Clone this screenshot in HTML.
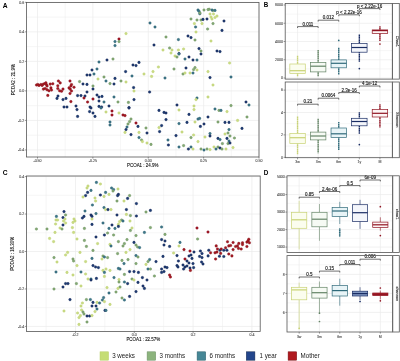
<!DOCTYPE html>
<html><head><meta charset="utf-8"><style>
html,body{margin:0;padding:0;background:#fff;width:400px;height:361px;overflow:hidden}
svg{display:block;will-change:transform}
text{font-family:"Liberation Sans", sans-serif}
</style></head><body>
<svg width="400" height="361" viewBox="0 0 400 361">
<defs><filter id="soft" x="-5%" y="-5%" width="110%" height="110%"><feGaussianBlur stdDeviation="0.3"/></filter></defs>
<rect x="0" y="0" width="400" height="361" fill="#fff"/>
<rect x="26.40" y="2.40" width="232.60" height="154.60" fill="#fff" stroke="none" stroke-width="0"/>
<line x1="65.19" y1="2.40" x2="65.19" y2="157.00" stroke="#ebebeb" stroke-width="0.45"/>
<line x1="120.56" y1="2.40" x2="120.56" y2="157.00" stroke="#ebebeb" stroke-width="0.45"/>
<line x1="175.94" y1="2.40" x2="175.94" y2="157.00" stroke="#ebebeb" stroke-width="0.45"/>
<line x1="231.31" y1="2.40" x2="231.31" y2="157.00" stroke="#ebebeb" stroke-width="0.45"/>
<line x1="26.40" y1="17.10" x2="259.00" y2="17.10" stroke="#ebebeb" stroke-width="0.45"/>
<line x1="26.40" y1="46.62" x2="259.00" y2="46.62" stroke="#ebebeb" stroke-width="0.45"/>
<line x1="26.40" y1="76.14" x2="259.00" y2="76.14" stroke="#ebebeb" stroke-width="0.45"/>
<line x1="26.40" y1="105.66" x2="259.00" y2="105.66" stroke="#ebebeb" stroke-width="0.45"/>
<line x1="26.40" y1="135.18" x2="259.00" y2="135.18" stroke="#ebebeb" stroke-width="0.45"/>
<line x1="37.50" y1="2.40" x2="37.50" y2="157.00" stroke="#ebebeb" stroke-width="0.7"/>
<line x1="92.88" y1="2.40" x2="92.88" y2="157.00" stroke="#ebebeb" stroke-width="0.7"/>
<line x1="148.25" y1="2.40" x2="148.25" y2="157.00" stroke="#ebebeb" stroke-width="0.7"/>
<line x1="203.62" y1="2.40" x2="203.62" y2="157.00" stroke="#ebebeb" stroke-width="0.7"/>
<line x1="259.00" y1="2.40" x2="259.00" y2="157.00" stroke="#ebebeb" stroke-width="0.7"/>
<line x1="26.40" y1="2.34" x2="259.00" y2="2.34" stroke="#ebebeb" stroke-width="0.7"/>
<line x1="26.40" y1="31.86" x2="259.00" y2="31.86" stroke="#ebebeb" stroke-width="0.7"/>
<line x1="26.40" y1="61.38" x2="259.00" y2="61.38" stroke="#ebebeb" stroke-width="0.7"/>
<line x1="26.40" y1="90.90" x2="259.00" y2="90.90" stroke="#ebebeb" stroke-width="0.7"/>
<line x1="26.40" y1="120.42" x2="259.00" y2="120.42" stroke="#ebebeb" stroke-width="0.7"/>
<line x1="26.40" y1="149.94" x2="259.00" y2="149.94" stroke="#ebebeb" stroke-width="0.7"/>
<g filter="url(#soft)">
<circle cx="150.0" cy="23.0" r="1.28" fill="#3d788a" stroke="#2e5c6c" stroke-width="0.35"/>
<circle cx="155.0" cy="27.0" r="1.28" fill="#3d788a" stroke="#2e5c6c" stroke-width="0.35"/>
<circle cx="126.0" cy="33.6" r="1.28" fill="#cadc84" stroke="#bccf74" stroke-width="0.35"/>
<circle cx="119.0" cy="39.0" r="1.28" fill="#a61a24" stroke="#7c1018" stroke-width="0.35"/>
<circle cx="115.0" cy="41.6" r="1.28" fill="#3d788a" stroke="#2e5c6c" stroke-width="0.35"/>
<circle cx="119.0" cy="41.6" r="1.28" fill="#84aa74" stroke="#6c8e60" stroke-width="0.35"/>
<circle cx="115.0" cy="45.6" r="1.28" fill="#3d788a" stroke="#2e5c6c" stroke-width="0.35"/>
<circle cx="154.0" cy="45.0" r="1.28" fill="#1f3a74" stroke="#152850" stroke-width="0.35"/>
<circle cx="166.0" cy="37.0" r="1.28" fill="#84aa74" stroke="#6c8e60" stroke-width="0.35"/>
<circle cx="178.4" cy="39.6" r="1.28" fill="#3d788a" stroke="#2e5c6c" stroke-width="0.35"/>
<circle cx="163.0" cy="50.0" r="1.28" fill="#cadc84" stroke="#bccf74" stroke-width="0.35"/>
<circle cx="169.6" cy="48.0" r="1.28" fill="#84aa74" stroke="#6c8e60" stroke-width="0.35"/>
<circle cx="172.0" cy="50.0" r="1.28" fill="#cadc84" stroke="#bccf74" stroke-width="0.35"/>
<circle cx="178.4" cy="50.0" r="1.28" fill="#cadc84" stroke="#bccf74" stroke-width="0.35"/>
<circle cx="183.6" cy="49.0" r="1.28" fill="#cadc84" stroke="#bccf74" stroke-width="0.35"/>
<circle cx="171.0" cy="53.0" r="1.28" fill="#cadc84" stroke="#bccf74" stroke-width="0.35"/>
<circle cx="179.0" cy="53.6" r="1.28" fill="#1f3a74" stroke="#152850" stroke-width="0.35"/>
<circle cx="198.0" cy="10.0" r="1.28" fill="#3d788a" stroke="#2e5c6c" stroke-width="0.35"/>
<circle cx="199.0" cy="11.2" r="1.28" fill="#3d788a" stroke="#2e5c6c" stroke-width="0.35"/>
<circle cx="199.8" cy="13.8" r="1.28" fill="#3d788a" stroke="#2e5c6c" stroke-width="0.35"/>
<circle cx="212.9" cy="10.6" r="1.28" fill="#84aa74" stroke="#6c8e60" stroke-width="0.35"/>
<circle cx="209.2" cy="9.2" r="1.28" fill="#84aa74" stroke="#6c8e60" stroke-width="0.35"/>
<circle cx="213.5" cy="14.0" r="1.28" fill="#cadc84" stroke="#bccf74" stroke-width="0.35"/>
<circle cx="215.0" cy="17.5" r="1.28" fill="#cadc84" stroke="#bccf74" stroke-width="0.35"/>
<circle cx="200.0" cy="13.0" r="1.28" fill="#84aa74" stroke="#6c8e60" stroke-width="0.35"/>
<circle cx="204.0" cy="10.0" r="1.28" fill="#84aa74" stroke="#6c8e60" stroke-width="0.35"/>
<circle cx="208.0" cy="9.6" r="1.28" fill="#84aa74" stroke="#6c8e60" stroke-width="0.35"/>
<circle cx="212.0" cy="10.0" r="1.28" fill="#3d788a" stroke="#2e5c6c" stroke-width="0.35"/>
<circle cx="215.0" cy="10.4" r="1.28" fill="#3d788a" stroke="#2e5c6c" stroke-width="0.35"/>
<circle cx="210.0" cy="14.0" r="1.28" fill="#cadc84" stroke="#bccf74" stroke-width="0.35"/>
<circle cx="211.0" cy="17.0" r="1.28" fill="#cadc84" stroke="#bccf74" stroke-width="0.35"/>
<circle cx="217.0" cy="16.0" r="1.28" fill="#cadc84" stroke="#bccf74" stroke-width="0.35"/>
<circle cx="212.0" cy="19.0" r="1.28" fill="#cadc84" stroke="#bccf74" stroke-width="0.35"/>
<circle cx="191.0" cy="19.0" r="1.28" fill="#84aa74" stroke="#6c8e60" stroke-width="0.35"/>
<circle cx="197.0" cy="20.0" r="1.28" fill="#84aa74" stroke="#6c8e60" stroke-width="0.35"/>
<circle cx="201.0" cy="20.0" r="1.28" fill="#84aa74" stroke="#6c8e60" stroke-width="0.35"/>
<circle cx="203.0" cy="19.4" r="1.28" fill="#1f3a74" stroke="#152850" stroke-width="0.35"/>
<circle cx="207.0" cy="19.0" r="1.28" fill="#1f3a74" stroke="#152850" stroke-width="0.35"/>
<circle cx="224.0" cy="21.0" r="1.28" fill="#1f3a74" stroke="#152850" stroke-width="0.35"/>
<circle cx="194.4" cy="23.6" r="1.28" fill="#cadc84" stroke="#bccf74" stroke-width="0.35"/>
<circle cx="202.0" cy="23.6" r="1.28" fill="#cadc84" stroke="#bccf74" stroke-width="0.35"/>
<circle cx="213.0" cy="23.6" r="1.28" fill="#84aa74" stroke="#6c8e60" stroke-width="0.35"/>
<circle cx="195.6" cy="27.0" r="1.28" fill="#3d788a" stroke="#2e5c6c" stroke-width="0.35"/>
<circle cx="207.6" cy="29.0" r="1.28" fill="#84aa74" stroke="#6c8e60" stroke-width="0.35"/>
<circle cx="222.0" cy="30.4" r="1.28" fill="#1f3a74" stroke="#152850" stroke-width="0.35"/>
<circle cx="196.0" cy="32.0" r="1.28" fill="#cadc84" stroke="#bccf74" stroke-width="0.35"/>
<circle cx="188.0" cy="36.0" r="1.28" fill="#1f3a74" stroke="#152850" stroke-width="0.35"/>
<circle cx="191.0" cy="37.6" r="1.28" fill="#1f3a74" stroke="#152850" stroke-width="0.35"/>
<circle cx="195.0" cy="40.0" r="1.28" fill="#84aa74" stroke="#6c8e60" stroke-width="0.35"/>
<circle cx="211.0" cy="41.0" r="1.28" fill="#cadc84" stroke="#bccf74" stroke-width="0.35"/>
<circle cx="199.0" cy="48.6" r="1.28" fill="#1f3a74" stroke="#152850" stroke-width="0.35"/>
<circle cx="201.0" cy="51.0" r="1.28" fill="#84aa74" stroke="#6c8e60" stroke-width="0.35"/>
<circle cx="217.0" cy="51.0" r="1.28" fill="#1f3a74" stroke="#152850" stroke-width="0.35"/>
<circle cx="220.0" cy="51.6" r="1.28" fill="#1f3a74" stroke="#152850" stroke-width="0.35"/>
<circle cx="36.5" cy="85.0" r="1.28" fill="#a61a24" stroke="#7c1018" stroke-width="0.35"/>
<circle cx="37.8" cy="84.5" r="1.28" fill="#a61a24" stroke="#7c1018" stroke-width="0.35"/>
<circle cx="39.0" cy="85.4" r="1.28" fill="#a61a24" stroke="#7c1018" stroke-width="0.35"/>
<circle cx="40.9" cy="84.5" r="1.28" fill="#a61a24" stroke="#7c1018" stroke-width="0.35"/>
<circle cx="42.1" cy="85.4" r="1.28" fill="#a61a24" stroke="#7c1018" stroke-width="0.35"/>
<circle cx="43.4" cy="84.1" r="1.28" fill="#a61a24" stroke="#7c1018" stroke-width="0.35"/>
<circle cx="45.2" cy="83.5" r="1.28" fill="#a61a24" stroke="#7c1018" stroke-width="0.35"/>
<circle cx="46.5" cy="84.8" r="1.28" fill="#a61a24" stroke="#7c1018" stroke-width="0.35"/>
<circle cx="47.1" cy="86.0" r="1.28" fill="#a61a24" stroke="#7c1018" stroke-width="0.35"/>
<circle cx="45.9" cy="82.9" r="1.28" fill="#a61a24" stroke="#7c1018" stroke-width="0.35"/>
<circle cx="50.2" cy="84.1" r="1.28" fill="#a61a24" stroke="#7c1018" stroke-width="0.35"/>
<circle cx="52.8" cy="83.8" r="1.28" fill="#a61a24" stroke="#7c1018" stroke-width="0.35"/>
<circle cx="43.4" cy="89.1" r="1.28" fill="#a61a24" stroke="#7c1018" stroke-width="0.35"/>
<circle cx="45.2" cy="88.5" r="1.28" fill="#a61a24" stroke="#7c1018" stroke-width="0.35"/>
<circle cx="47.1" cy="89.8" r="1.28" fill="#a61a24" stroke="#7c1018" stroke-width="0.35"/>
<circle cx="49.0" cy="90.8" r="1.28" fill="#a61a24" stroke="#7c1018" stroke-width="0.35"/>
<circle cx="50.9" cy="87.9" r="1.28" fill="#a61a24" stroke="#7c1018" stroke-width="0.35"/>
<circle cx="51.5" cy="90.0" r="1.28" fill="#a61a24" stroke="#7c1018" stroke-width="0.35"/>
<circle cx="47.8" cy="95.4" r="1.28" fill="#a61a24" stroke="#7c1018" stroke-width="0.35"/>
<circle cx="58.4" cy="81.0" r="1.28" fill="#a61a24" stroke="#7c1018" stroke-width="0.35"/>
<circle cx="60.2" cy="82.9" r="1.28" fill="#a61a24" stroke="#7c1018" stroke-width="0.35"/>
<circle cx="57.8" cy="85.8" r="1.28" fill="#a61a24" stroke="#7c1018" stroke-width="0.35"/>
<circle cx="57.8" cy="88.5" r="1.28" fill="#a61a24" stroke="#7c1018" stroke-width="0.35"/>
<circle cx="59.6" cy="90.8" r="1.28" fill="#a61a24" stroke="#7c1018" stroke-width="0.35"/>
<circle cx="61.5" cy="91.2" r="1.28" fill="#a61a24" stroke="#7c1018" stroke-width="0.35"/>
<circle cx="63.0" cy="89.1" r="1.28" fill="#a61a24" stroke="#7c1018" stroke-width="0.35"/>
<circle cx="70.0" cy="81.0" r="1.28" fill="#a61a24" stroke="#7c1018" stroke-width="0.35"/>
<circle cx="71.5" cy="84.5" r="1.28" fill="#a61a24" stroke="#7c1018" stroke-width="0.35"/>
<circle cx="70.9" cy="86.0" r="1.28" fill="#a61a24" stroke="#7c1018" stroke-width="0.35"/>
<circle cx="69.0" cy="87.9" r="1.28" fill="#a61a24" stroke="#7c1018" stroke-width="0.35"/>
<circle cx="74.0" cy="87.2" r="1.28" fill="#a61a24" stroke="#7c1018" stroke-width="0.35"/>
<circle cx="70.2" cy="89.1" r="1.28" fill="#a61a24" stroke="#7c1018" stroke-width="0.35"/>
<circle cx="71.5" cy="91.0" r="1.28" fill="#a61a24" stroke="#7c1018" stroke-width="0.35"/>
<circle cx="70.0" cy="93.5" r="1.28" fill="#a61a24" stroke="#7c1018" stroke-width="0.35"/>
<circle cx="70.9" cy="101.6" r="1.28" fill="#a61a24" stroke="#7c1018" stroke-width="0.35"/>
<circle cx="79.6" cy="81.6" r="1.28" fill="#84aa74" stroke="#6c8e60" stroke-width="0.35"/>
<circle cx="87.6" cy="102.0" r="1.28" fill="#a61a24" stroke="#7c1018" stroke-width="0.35"/>
<circle cx="93.0" cy="99.0" r="1.28" fill="#a61a24" stroke="#7c1018" stroke-width="0.35"/>
<circle cx="99.0" cy="62.0" r="1.28" fill="#3d788a" stroke="#2e5c6c" stroke-width="0.35"/>
<circle cx="97.0" cy="69.0" r="1.28" fill="#3d788a" stroke="#2e5c6c" stroke-width="0.35"/>
<circle cx="92.0" cy="70.0" r="1.28" fill="#1f3a74" stroke="#152850" stroke-width="0.35"/>
<circle cx="87.0" cy="75.0" r="1.28" fill="#1f3a74" stroke="#152850" stroke-width="0.35"/>
<circle cx="90.0" cy="75.0" r="1.28" fill="#1f3a74" stroke="#152850" stroke-width="0.35"/>
<circle cx="94.0" cy="74.0" r="1.28" fill="#3d788a" stroke="#2e5c6c" stroke-width="0.35"/>
<circle cx="104.0" cy="77.0" r="1.28" fill="#84aa74" stroke="#6c8e60" stroke-width="0.35"/>
<circle cx="98.0" cy="79.0" r="1.28" fill="#cadc84" stroke="#bccf74" stroke-width="0.35"/>
<circle cx="83.0" cy="84.0" r="1.28" fill="#1f3a74" stroke="#152850" stroke-width="0.35"/>
<circle cx="87.0" cy="84.4" r="1.28" fill="#1f3a74" stroke="#152850" stroke-width="0.35"/>
<circle cx="93.0" cy="86.0" r="1.28" fill="#84aa74" stroke="#6c8e60" stroke-width="0.35"/>
<circle cx="87.0" cy="92.0" r="1.28" fill="#1f3a74" stroke="#152850" stroke-width="0.35"/>
<circle cx="93.0" cy="89.0" r="1.28" fill="#1f3a74" stroke="#152850" stroke-width="0.35"/>
<circle cx="77.6" cy="95.6" r="1.28" fill="#1f3a74" stroke="#152850" stroke-width="0.35"/>
<circle cx="81.0" cy="95.6" r="1.28" fill="#1f3a74" stroke="#152850" stroke-width="0.35"/>
<circle cx="85.0" cy="96.0" r="1.28" fill="#1f3a74" stroke="#152850" stroke-width="0.35"/>
<circle cx="84.0" cy="98.0" r="1.28" fill="#a61a24" stroke="#7c1018" stroke-width="0.35"/>
<circle cx="58.0" cy="96.0" r="1.28" fill="#1f3a74" stroke="#152850" stroke-width="0.35"/>
<circle cx="57.0" cy="98.4" r="1.28" fill="#1f3a74" stroke="#152850" stroke-width="0.35"/>
<circle cx="63.0" cy="99.6" r="1.28" fill="#1f3a74" stroke="#152850" stroke-width="0.35"/>
<circle cx="66.0" cy="98.4" r="1.28" fill="#1f3a74" stroke="#152850" stroke-width="0.35"/>
<circle cx="64.0" cy="107.0" r="1.28" fill="#1f3a74" stroke="#152850" stroke-width="0.35"/>
<circle cx="67.0" cy="107.0" r="1.28" fill="#1f3a74" stroke="#152850" stroke-width="0.35"/>
<circle cx="76.0" cy="106.0" r="1.28" fill="#1f3a74" stroke="#152850" stroke-width="0.35"/>
<circle cx="97.0" cy="95.0" r="1.28" fill="#1f3a74" stroke="#152850" stroke-width="0.35"/>
<circle cx="99.0" cy="97.0" r="1.28" fill="#1f3a74" stroke="#152850" stroke-width="0.35"/>
<circle cx="102.0" cy="96.4" r="1.28" fill="#1f3a74" stroke="#152850" stroke-width="0.35"/>
<circle cx="99.0" cy="101.0" r="1.28" fill="#1f3a74" stroke="#152850" stroke-width="0.35"/>
<circle cx="90.0" cy="107.0" r="1.28" fill="#1f3a74" stroke="#152850" stroke-width="0.35"/>
<circle cx="99.0" cy="106.4" r="1.28" fill="#1f3a74" stroke="#152850" stroke-width="0.35"/>
<circle cx="101.6" cy="107.0" r="1.28" fill="#1f3a74" stroke="#152850" stroke-width="0.35"/>
<circle cx="104.0" cy="102.0" r="1.28" fill="#3d788a" stroke="#2e5c6c" stroke-width="0.35"/>
<circle cx="107.0" cy="60.0" r="1.28" fill="#1f3a74" stroke="#152850" stroke-width="0.35"/>
<circle cx="113.0" cy="59.0" r="1.28" fill="#84aa74" stroke="#6c8e60" stroke-width="0.35"/>
<circle cx="133.0" cy="65.0" r="1.28" fill="#1f3a74" stroke="#152850" stroke-width="0.35"/>
<circle cx="136.0" cy="65.6" r="1.28" fill="#1f3a74" stroke="#152850" stroke-width="0.35"/>
<circle cx="139.0" cy="62.4" r="1.28" fill="#1f3a74" stroke="#152850" stroke-width="0.35"/>
<circle cx="125.6" cy="71.6" r="1.28" fill="#1f3a74" stroke="#152850" stroke-width="0.35"/>
<circle cx="132.0" cy="76.0" r="1.28" fill="#3d788a" stroke="#2e5c6c" stroke-width="0.35"/>
<circle cx="115.0" cy="78.4" r="1.28" fill="#1f3a74" stroke="#152850" stroke-width="0.35"/>
<circle cx="121.0" cy="81.0" r="1.28" fill="#84aa74" stroke="#6c8e60" stroke-width="0.35"/>
<circle cx="126.0" cy="82.0" r="1.28" fill="#cadc84" stroke="#bccf74" stroke-width="0.35"/>
<circle cx="110.0" cy="83.6" r="1.28" fill="#84aa74" stroke="#6c8e60" stroke-width="0.35"/>
<circle cx="114.0" cy="84.0" r="1.28" fill="#1f3a74" stroke="#152850" stroke-width="0.35"/>
<circle cx="106.0" cy="81.0" r="1.28" fill="#3d788a" stroke="#2e5c6c" stroke-width="0.35"/>
<circle cx="133.6" cy="87.6" r="1.28" fill="#1f3a74" stroke="#152850" stroke-width="0.35"/>
<circle cx="134.0" cy="91.0" r="1.28" fill="#cadc84" stroke="#bccf74" stroke-width="0.35"/>
<circle cx="144.0" cy="74.0" r="1.28" fill="#cadc84" stroke="#bccf74" stroke-width="0.35"/>
<circle cx="153.0" cy="71.6" r="1.28" fill="#cadc84" stroke="#bccf74" stroke-width="0.35"/>
<circle cx="158.4" cy="67.0" r="1.28" fill="#cadc84" stroke="#bccf74" stroke-width="0.35"/>
<circle cx="151.6" cy="76.4" r="1.28" fill="#cadc84" stroke="#bccf74" stroke-width="0.35"/>
<circle cx="149.6" cy="92.0" r="1.28" fill="#1f3a74" stroke="#152850" stroke-width="0.35"/>
<circle cx="165.0" cy="78.0" r="1.28" fill="#3d788a" stroke="#2e5c6c" stroke-width="0.35"/>
<circle cx="174.0" cy="69.0" r="1.28" fill="#84aa74" stroke="#6c8e60" stroke-width="0.35"/>
<circle cx="175.0" cy="56.0" r="1.28" fill="#cadc84" stroke="#bccf74" stroke-width="0.35"/>
<circle cx="177.0" cy="57.0" r="1.28" fill="#84aa74" stroke="#6c8e60" stroke-width="0.35"/>
<circle cx="179.0" cy="54.0" r="1.28" fill="#3d788a" stroke="#2e5c6c" stroke-width="0.35"/>
<circle cx="185.0" cy="59.0" r="1.28" fill="#3d788a" stroke="#2e5c6c" stroke-width="0.35"/>
<circle cx="183.0" cy="74.0" r="1.28" fill="#84aa74" stroke="#6c8e60" stroke-width="0.35"/>
<circle cx="185.0" cy="73.0" r="1.28" fill="#cadc84" stroke="#bccf74" stroke-width="0.35"/>
<circle cx="114.0" cy="97.0" r="1.28" fill="#3d788a" stroke="#2e5c6c" stroke-width="0.35"/>
<circle cx="118.0" cy="102.0" r="1.28" fill="#84aa74" stroke="#6c8e60" stroke-width="0.35"/>
<circle cx="128.4" cy="102.4" r="1.28" fill="#84aa74" stroke="#6c8e60" stroke-width="0.35"/>
<circle cx="134.0" cy="99.6" r="1.28" fill="#1f3a74" stroke="#152850" stroke-width="0.35"/>
<circle cx="109.0" cy="106.0" r="1.28" fill="#1f3a74" stroke="#152850" stroke-width="0.35"/>
<circle cx="129.0" cy="107.6" r="1.28" fill="#1f3a74" stroke="#152850" stroke-width="0.35"/>
<circle cx="177.0" cy="105.0" r="1.28" fill="#1f3a74" stroke="#152850" stroke-width="0.35"/>
<circle cx="189.0" cy="57.0" r="1.28" fill="#1f3a74" stroke="#152850" stroke-width="0.35"/>
<circle cx="193.0" cy="60.0" r="1.28" fill="#1f3a74" stroke="#152850" stroke-width="0.35"/>
<circle cx="197.0" cy="60.0" r="1.28" fill="#3d788a" stroke="#2e5c6c" stroke-width="0.35"/>
<circle cx="201.0" cy="54.0" r="1.28" fill="#1f3a74" stroke="#152850" stroke-width="0.35"/>
<circle cx="186.0" cy="68.0" r="1.28" fill="#1f3a74" stroke="#152850" stroke-width="0.35"/>
<circle cx="195.0" cy="67.6" r="1.28" fill="#84aa74" stroke="#6c8e60" stroke-width="0.35"/>
<circle cx="193.6" cy="69.6" r="1.28" fill="#84aa74" stroke="#6c8e60" stroke-width="0.35"/>
<circle cx="197.0" cy="70.0" r="1.28" fill="#cadc84" stroke="#bccf74" stroke-width="0.35"/>
<circle cx="190.0" cy="73.0" r="1.28" fill="#cadc84" stroke="#bccf74" stroke-width="0.35"/>
<circle cx="193.0" cy="73.0" r="1.28" fill="#3d788a" stroke="#2e5c6c" stroke-width="0.35"/>
<circle cx="208.0" cy="71.6" r="1.28" fill="#cadc84" stroke="#bccf74" stroke-width="0.35"/>
<circle cx="210.0" cy="77.6" r="1.28" fill="#1f3a74" stroke="#152850" stroke-width="0.35"/>
<circle cx="213.0" cy="85.0" r="1.28" fill="#cadc84" stroke="#bccf74" stroke-width="0.35"/>
<circle cx="229.6" cy="63.0" r="1.28" fill="#cadc84" stroke="#bccf74" stroke-width="0.35"/>
<circle cx="231.0" cy="77.0" r="1.28" fill="#3d788a" stroke="#2e5c6c" stroke-width="0.35"/>
<circle cx="197.0" cy="98.0" r="1.28" fill="#3d788a" stroke="#2e5c6c" stroke-width="0.35"/>
<circle cx="196.0" cy="99.6" r="1.28" fill="#cadc84" stroke="#bccf74" stroke-width="0.35"/>
<circle cx="208.0" cy="97.0" r="1.28" fill="#cadc84" stroke="#bccf74" stroke-width="0.35"/>
<circle cx="246.0" cy="102.0" r="1.28" fill="#1f3a74" stroke="#152850" stroke-width="0.35"/>
<circle cx="249.0" cy="105.0" r="1.28" fill="#3d788a" stroke="#2e5c6c" stroke-width="0.35"/>
<circle cx="231.0" cy="105.6" r="1.28" fill="#84aa74" stroke="#6c8e60" stroke-width="0.35"/>
<circle cx="194.0" cy="106.0" r="1.28" fill="#cadc84" stroke="#bccf74" stroke-width="0.35"/>
<circle cx="77.0" cy="109.6" r="1.28" fill="#1f3a74" stroke="#152850" stroke-width="0.35"/>
<circle cx="77.6" cy="116.4" r="1.28" fill="#1f3a74" stroke="#152850" stroke-width="0.35"/>
<circle cx="89.6" cy="111.6" r="1.28" fill="#1f3a74" stroke="#152850" stroke-width="0.35"/>
<circle cx="93.0" cy="113.0" r="1.28" fill="#1f3a74" stroke="#152850" stroke-width="0.35"/>
<circle cx="95.0" cy="116.4" r="1.28" fill="#1f3a74" stroke="#152850" stroke-width="0.35"/>
<circle cx="91.0" cy="108.0" r="1.28" fill="#1f3a74" stroke="#152850" stroke-width="0.35"/>
<circle cx="101.0" cy="108.0" r="1.28" fill="#3d788a" stroke="#2e5c6c" stroke-width="0.35"/>
<circle cx="106.0" cy="112.0" r="1.28" fill="#cadc84" stroke="#bccf74" stroke-width="0.35"/>
<circle cx="112.0" cy="111.0" r="1.28" fill="#a61a24" stroke="#7c1018" stroke-width="0.35"/>
<circle cx="112.0" cy="115.0" r="1.28" fill="#a61a24" stroke="#7c1018" stroke-width="0.35"/>
<circle cx="119.0" cy="113.0" r="1.28" fill="#cadc84" stroke="#bccf74" stroke-width="0.35"/>
<circle cx="123.0" cy="115.0" r="1.28" fill="#a61a24" stroke="#7c1018" stroke-width="0.35"/>
<circle cx="125.0" cy="115.6" r="1.28" fill="#a61a24" stroke="#7c1018" stroke-width="0.35"/>
<circle cx="129.0" cy="108.0" r="1.28" fill="#1f3a74" stroke="#152850" stroke-width="0.35"/>
<circle cx="110.0" cy="122.0" r="1.28" fill="#3d788a" stroke="#2e5c6c" stroke-width="0.35"/>
<circle cx="110.0" cy="125.0" r="1.28" fill="#3d788a" stroke="#2e5c6c" stroke-width="0.35"/>
<circle cx="131.0" cy="119.0" r="1.28" fill="#84aa74" stroke="#6c8e60" stroke-width="0.35"/>
<circle cx="129.6" cy="121.6" r="1.28" fill="#84aa74" stroke="#6c8e60" stroke-width="0.35"/>
<circle cx="128.0" cy="124.0" r="1.28" fill="#84aa74" stroke="#6c8e60" stroke-width="0.35"/>
<circle cx="127.0" cy="127.0" r="1.28" fill="#3d788a" stroke="#2e5c6c" stroke-width="0.35"/>
<circle cx="126.0" cy="129.6" r="1.28" fill="#1f3a74" stroke="#152850" stroke-width="0.35"/>
<circle cx="125.0" cy="132.4" r="1.28" fill="#cadc84" stroke="#bccf74" stroke-width="0.35"/>
<circle cx="131.0" cy="134.6" r="1.28" fill="#1f3a74" stroke="#152850" stroke-width="0.35"/>
<circle cx="136.0" cy="123.0" r="1.28" fill="#a61a24" stroke="#7c1018" stroke-width="0.35"/>
<circle cx="138.0" cy="126.4" r="1.28" fill="#1f3a74" stroke="#152850" stroke-width="0.35"/>
<circle cx="139.0" cy="132.4" r="1.28" fill="#cadc84" stroke="#bccf74" stroke-width="0.35"/>
<circle cx="139.0" cy="137.6" r="1.28" fill="#3d788a" stroke="#2e5c6c" stroke-width="0.35"/>
<circle cx="141.6" cy="140.0" r="1.28" fill="#84aa74" stroke="#6c8e60" stroke-width="0.35"/>
<circle cx="142.4" cy="141.6" r="1.28" fill="#cadc84" stroke="#bccf74" stroke-width="0.35"/>
<circle cx="146.0" cy="128.0" r="1.28" fill="#84aa74" stroke="#6c8e60" stroke-width="0.35"/>
<circle cx="147.0" cy="133.0" r="1.28" fill="#1f3a74" stroke="#152850" stroke-width="0.35"/>
<circle cx="147.0" cy="143.0" r="1.28" fill="#cadc84" stroke="#bccf74" stroke-width="0.35"/>
<circle cx="151.0" cy="144.4" r="1.28" fill="#84aa74" stroke="#6c8e60" stroke-width="0.35"/>
<circle cx="159.0" cy="110.4" r="1.28" fill="#1f3a74" stroke="#152850" stroke-width="0.35"/>
<circle cx="164.0" cy="112.4" r="1.28" fill="#1f3a74" stroke="#152850" stroke-width="0.35"/>
<circle cx="166.0" cy="113.0" r="1.28" fill="#1f3a74" stroke="#152850" stroke-width="0.35"/>
<circle cx="166.0" cy="119.6" r="1.28" fill="#1f3a74" stroke="#152850" stroke-width="0.35"/>
<circle cx="159.0" cy="127.6" r="1.28" fill="#cadc84" stroke="#bccf74" stroke-width="0.35"/>
<circle cx="161.6" cy="125.6" r="1.28" fill="#1f3a74" stroke="#152850" stroke-width="0.35"/>
<circle cx="159.6" cy="131.6" r="1.28" fill="#1f3a74" stroke="#152850" stroke-width="0.35"/>
<circle cx="168.0" cy="140.0" r="1.28" fill="#3d788a" stroke="#2e5c6c" stroke-width="0.35"/>
<circle cx="168.4" cy="145.0" r="1.28" fill="#1f3a74" stroke="#152850" stroke-width="0.35"/>
<circle cx="176.0" cy="135.6" r="1.28" fill="#1f3a74" stroke="#152850" stroke-width="0.35"/>
<circle cx="179.0" cy="110.0" r="1.28" fill="#cadc84" stroke="#bccf74" stroke-width="0.35"/>
<circle cx="179.0" cy="123.6" r="1.28" fill="#3d788a" stroke="#2e5c6c" stroke-width="0.35"/>
<circle cx="182.0" cy="132.0" r="1.28" fill="#cadc84" stroke="#bccf74" stroke-width="0.35"/>
<circle cx="179.0" cy="147.0" r="1.28" fill="#3d788a" stroke="#2e5c6c" stroke-width="0.35"/>
<circle cx="183.6" cy="145.6" r="1.28" fill="#84aa74" stroke="#6c8e60" stroke-width="0.35"/>
<circle cx="194.0" cy="109.6" r="1.28" fill="#cadc84" stroke="#bccf74" stroke-width="0.35"/>
<circle cx="215.0" cy="109.0" r="1.28" fill="#3d788a" stroke="#2e5c6c" stroke-width="0.35"/>
<circle cx="219.0" cy="110.4" r="1.28" fill="#84aa74" stroke="#6c8e60" stroke-width="0.35"/>
<circle cx="221.0" cy="110.4" r="1.28" fill="#3d788a" stroke="#2e5c6c" stroke-width="0.35"/>
<circle cx="227.0" cy="111.6" r="1.28" fill="#cadc84" stroke="#bccf74" stroke-width="0.35"/>
<circle cx="189.0" cy="114.4" r="1.28" fill="#1f3a74" stroke="#152850" stroke-width="0.35"/>
<circle cx="208.0" cy="117.0" r="1.28" fill="#1f3a74" stroke="#152850" stroke-width="0.35"/>
<circle cx="199.6" cy="118.4" r="1.28" fill="#3d788a" stroke="#2e5c6c" stroke-width="0.35"/>
<circle cx="198.0" cy="119.0" r="1.28" fill="#3d788a" stroke="#2e5c6c" stroke-width="0.35"/>
<circle cx="187.0" cy="122.4" r="1.28" fill="#1f3a74" stroke="#152850" stroke-width="0.35"/>
<circle cx="195.0" cy="122.0" r="1.28" fill="#cadc84" stroke="#bccf74" stroke-width="0.35"/>
<circle cx="204.0" cy="124.0" r="1.28" fill="#1f3a74" stroke="#152850" stroke-width="0.35"/>
<circle cx="200.4" cy="126.4" r="1.28" fill="#1f3a74" stroke="#152850" stroke-width="0.35"/>
<circle cx="218.0" cy="122.0" r="1.28" fill="#84aa74" stroke="#6c8e60" stroke-width="0.35"/>
<circle cx="225.0" cy="122.4" r="1.28" fill="#1f3a74" stroke="#152850" stroke-width="0.35"/>
<circle cx="229.0" cy="122.4" r="1.28" fill="#1f3a74" stroke="#152850" stroke-width="0.35"/>
<circle cx="237.6" cy="120.4" r="1.28" fill="#cadc84" stroke="#bccf74" stroke-width="0.35"/>
<circle cx="247.0" cy="117.0" r="1.28" fill="#84aa74" stroke="#6c8e60" stroke-width="0.35"/>
<circle cx="242.0" cy="128.4" r="1.28" fill="#1f3a74" stroke="#152850" stroke-width="0.35"/>
<circle cx="229.0" cy="129.6" r="1.28" fill="#3d788a" stroke="#2e5c6c" stroke-width="0.35"/>
<circle cx="210.0" cy="133.6" r="1.28" fill="#3d788a" stroke="#2e5c6c" stroke-width="0.35"/>
<circle cx="210.0" cy="136.0" r="1.28" fill="#1f3a74" stroke="#152850" stroke-width="0.35"/>
<circle cx="193.6" cy="135.0" r="1.28" fill="#cadc84" stroke="#bccf74" stroke-width="0.35"/>
<circle cx="191.0" cy="137.6" r="1.28" fill="#84aa74" stroke="#6c8e60" stroke-width="0.35"/>
<circle cx="205.0" cy="137.0" r="1.28" fill="#cadc84" stroke="#bccf74" stroke-width="0.35"/>
<circle cx="225.0" cy="134.0" r="1.28" fill="#cadc84" stroke="#bccf74" stroke-width="0.35"/>
<circle cx="228.0" cy="133.0" r="1.28" fill="#84aa74" stroke="#6c8e60" stroke-width="0.35"/>
<circle cx="230.0" cy="136.0" r="1.28" fill="#84aa74" stroke="#6c8e60" stroke-width="0.35"/>
<circle cx="227.0" cy="138.4" r="1.28" fill="#1f3a74" stroke="#152850" stroke-width="0.35"/>
<circle cx="218.0" cy="138.4" r="1.28" fill="#1f3a74" stroke="#152850" stroke-width="0.35"/>
<circle cx="220.0" cy="139.6" r="1.28" fill="#3d788a" stroke="#2e5c6c" stroke-width="0.35"/>
<circle cx="234.4" cy="138.0" r="1.28" fill="#84aa74" stroke="#6c8e60" stroke-width="0.35"/>
<circle cx="229.0" cy="141.0" r="1.28" fill="#3d788a" stroke="#2e5c6c" stroke-width="0.35"/>
<circle cx="228.0" cy="143.6" r="1.28" fill="#84aa74" stroke="#6c8e60" stroke-width="0.35"/>
<circle cx="230.0" cy="143.0" r="1.28" fill="#1f3a74" stroke="#152850" stroke-width="0.35"/>
<circle cx="222.4" cy="143.6" r="1.28" fill="#84aa74" stroke="#6c8e60" stroke-width="0.35"/>
<circle cx="198.0" cy="141.6" r="1.28" fill="#cadc84" stroke="#bccf74" stroke-width="0.35"/>
<circle cx="188.4" cy="149.0" r="1.28" fill="#1f3a74" stroke="#152850" stroke-width="0.35"/>
<circle cx="191.0" cy="147.0" r="1.28" fill="#3d788a" stroke="#2e5c6c" stroke-width="0.35"/>
<circle cx="193.0" cy="149.0" r="1.28" fill="#cadc84" stroke="#bccf74" stroke-width="0.35"/>
<circle cx="201.0" cy="149.0" r="1.28" fill="#84aa74" stroke="#6c8e60" stroke-width="0.35"/>
<circle cx="204.0" cy="150.0" r="1.28" fill="#3d788a" stroke="#2e5c6c" stroke-width="0.35"/>
<circle cx="207.0" cy="149.0" r="1.28" fill="#84aa74" stroke="#6c8e60" stroke-width="0.35"/>
<circle cx="210.0" cy="149.6" r="1.28" fill="#cadc84" stroke="#bccf74" stroke-width="0.35"/>
<circle cx="214.0" cy="147.0" r="1.28" fill="#cadc84" stroke="#bccf74" stroke-width="0.35"/>
<circle cx="216.0" cy="149.0" r="1.28" fill="#3d788a" stroke="#2e5c6c" stroke-width="0.35"/>
<circle cx="218.0" cy="147.0" r="1.28" fill="#84aa74" stroke="#6c8e60" stroke-width="0.35"/>
<circle cx="220.0" cy="148.0" r="1.28" fill="#1f3a74" stroke="#152850" stroke-width="0.35"/>
<circle cx="222.0" cy="149.0" r="1.28" fill="#84aa74" stroke="#6c8e60" stroke-width="0.35"/>
<circle cx="226.0" cy="149.0" r="1.28" fill="#cadc84" stroke="#bccf74" stroke-width="0.35"/>
<circle cx="233.0" cy="147.6" r="1.28" fill="#cadc84" stroke="#bccf74" stroke-width="0.35"/>
</g>
<rect x="26.40" y="2.40" width="232.60" height="154.60" fill="none" stroke="#555555" stroke-width="0.8"/>
<line x1="37.50" y1="157.00" x2="37.50" y2="158.60" stroke="#555555" stroke-width="0.6"/>
<text x="37.50" y="161.60" font-size="3.55" text-anchor="middle" fill="#4d4d4d" font-weight="normal" stroke="#4d4d4d" stroke-width="0.1">-0.50</text>
<line x1="92.88" y1="157.00" x2="92.88" y2="158.60" stroke="#555555" stroke-width="0.6"/>
<text x="92.88" y="161.60" font-size="3.55" text-anchor="middle" fill="#4d4d4d" font-weight="normal" stroke="#4d4d4d" stroke-width="0.1">-0.25</text>
<line x1="148.25" y1="157.00" x2="148.25" y2="158.60" stroke="#555555" stroke-width="0.6"/>
<text x="148.25" y="161.60" font-size="3.55" text-anchor="middle" fill="#4d4d4d" font-weight="normal" stroke="#4d4d4d" stroke-width="0.1">0.00</text>
<line x1="203.62" y1="157.00" x2="203.62" y2="158.60" stroke="#555555" stroke-width="0.6"/>
<text x="203.62" y="161.60" font-size="3.55" text-anchor="middle" fill="#4d4d4d" font-weight="normal" stroke="#4d4d4d" stroke-width="0.1">0.25</text>
<line x1="259.00" y1="157.00" x2="259.00" y2="158.60" stroke="#555555" stroke-width="0.6"/>
<text x="259.00" y="161.60" font-size="3.55" text-anchor="middle" fill="#4d4d4d" font-weight="normal" stroke="#4d4d4d" stroke-width="0.1">0.50</text>
<line x1="24.80" y1="2.34" x2="26.40" y2="2.34" stroke="#555555" stroke-width="0.6"/>
<text x="24.20" y="3.59" font-size="3.55" text-anchor="end" fill="#4d4d4d" font-weight="normal" stroke="#4d4d4d" stroke-width="0.1">0.6</text>
<line x1="24.80" y1="31.86" x2="26.40" y2="31.86" stroke="#555555" stroke-width="0.6"/>
<text x="24.20" y="33.11" font-size="3.55" text-anchor="end" fill="#4d4d4d" font-weight="normal" stroke="#4d4d4d" stroke-width="0.1">0.4</text>
<line x1="24.80" y1="61.38" x2="26.40" y2="61.38" stroke="#555555" stroke-width="0.6"/>
<text x="24.20" y="62.63" font-size="3.55" text-anchor="end" fill="#4d4d4d" font-weight="normal" stroke="#4d4d4d" stroke-width="0.1">0.2</text>
<line x1="24.80" y1="90.90" x2="26.40" y2="90.90" stroke="#555555" stroke-width="0.6"/>
<text x="24.20" y="92.15" font-size="3.55" text-anchor="end" fill="#4d4d4d" font-weight="normal" stroke="#4d4d4d" stroke-width="0.1">0.0</text>
<line x1="24.80" y1="120.42" x2="26.40" y2="120.42" stroke="#555555" stroke-width="0.6"/>
<text x="24.20" y="121.67" font-size="3.55" text-anchor="end" fill="#4d4d4d" font-weight="normal" stroke="#4d4d4d" stroke-width="0.1">-0.2</text>
<line x1="24.80" y1="149.94" x2="26.40" y2="149.94" stroke="#555555" stroke-width="0.6"/>
<text x="24.20" y="151.19" font-size="3.55" text-anchor="end" fill="#4d4d4d" font-weight="normal" stroke="#4d4d4d" stroke-width="0.1">-0.4</text>
<text x="142.70" y="166.90" font-size="4.45" text-anchor="middle" fill="#111" font-weight="normal" stroke="#111" stroke-width="0.1">PCOA1 : 24.9%</text>
<text x="15.20" y="79.70" font-size="4.45" text-anchor="middle" fill="#111" font-weight="normal" stroke="#111" stroke-width="0.1" transform="rotate(-90 15.20 79.70)">PCOA2 : 21.9%</text>
<rect x="26.40" y="176.00" width="233.80" height="155.40" fill="#fff" stroke="none" stroke-width="0"/>
<line x1="46.10" y1="176.00" x2="46.10" y2="331.40" stroke="#ebebeb" stroke-width="0.45"/>
<line x1="104.90" y1="176.00" x2="104.90" y2="331.40" stroke="#ebebeb" stroke-width="0.45"/>
<line x1="163.70" y1="176.00" x2="163.70" y2="331.40" stroke="#ebebeb" stroke-width="0.45"/>
<line x1="222.50" y1="176.00" x2="222.50" y2="331.40" stroke="#ebebeb" stroke-width="0.45"/>
<line x1="26.40" y1="195.31" x2="260.20" y2="195.31" stroke="#ebebeb" stroke-width="0.45"/>
<line x1="26.40" y1="232.77" x2="260.20" y2="232.77" stroke="#ebebeb" stroke-width="0.45"/>
<line x1="26.40" y1="270.23" x2="260.20" y2="270.23" stroke="#ebebeb" stroke-width="0.45"/>
<line x1="26.40" y1="307.69" x2="260.20" y2="307.69" stroke="#ebebeb" stroke-width="0.45"/>
<line x1="75.50" y1="176.00" x2="75.50" y2="331.40" stroke="#ebebeb" stroke-width="0.7"/>
<line x1="134.30" y1="176.00" x2="134.30" y2="331.40" stroke="#ebebeb" stroke-width="0.7"/>
<line x1="193.10" y1="176.00" x2="193.10" y2="331.40" stroke="#ebebeb" stroke-width="0.7"/>
<line x1="251.90" y1="176.00" x2="251.90" y2="331.40" stroke="#ebebeb" stroke-width="0.7"/>
<line x1="26.40" y1="176.58" x2="260.20" y2="176.58" stroke="#ebebeb" stroke-width="0.7"/>
<line x1="26.40" y1="214.04" x2="260.20" y2="214.04" stroke="#ebebeb" stroke-width="0.7"/>
<line x1="26.40" y1="251.50" x2="260.20" y2="251.50" stroke="#ebebeb" stroke-width="0.7"/>
<line x1="26.40" y1="288.96" x2="260.20" y2="288.96" stroke="#ebebeb" stroke-width="0.7"/>
<line x1="26.40" y1="326.42" x2="260.20" y2="326.42" stroke="#ebebeb" stroke-width="0.7"/>
<g filter="url(#soft)">
<circle cx="96.4" cy="182.4" r="1.28" fill="#3d788a" stroke="#2e5c6c" stroke-width="0.35"/>
<circle cx="100.4" cy="184.0" r="1.28" fill="#cadc84" stroke="#bccf74" stroke-width="0.35"/>
<circle cx="88.0" cy="186.0" r="1.28" fill="#cadc84" stroke="#bccf74" stroke-width="0.35"/>
<circle cx="87.0" cy="188.0" r="1.28" fill="#cadc84" stroke="#bccf74" stroke-width="0.35"/>
<circle cx="91.0" cy="190.4" r="1.28" fill="#3d788a" stroke="#2e5c6c" stroke-width="0.35"/>
<circle cx="87.6" cy="192.4" r="1.28" fill="#1f3a74" stroke="#152850" stroke-width="0.35"/>
<circle cx="85.6" cy="195.6" r="1.28" fill="#1f3a74" stroke="#152850" stroke-width="0.35"/>
<circle cx="83.0" cy="197.0" r="1.28" fill="#cadc84" stroke="#bccf74" stroke-width="0.35"/>
<circle cx="95.0" cy="198.0" r="1.28" fill="#cadc84" stroke="#bccf74" stroke-width="0.35"/>
<circle cx="95.6" cy="201.0" r="1.28" fill="#cadc84" stroke="#bccf74" stroke-width="0.35"/>
<circle cx="100.4" cy="195.0" r="1.28" fill="#1f3a74" stroke="#152850" stroke-width="0.35"/>
<circle cx="104.0" cy="196.4" r="1.28" fill="#cadc84" stroke="#bccf74" stroke-width="0.35"/>
<circle cx="105.6" cy="192.4" r="1.28" fill="#3d788a" stroke="#2e5c6c" stroke-width="0.35"/>
<circle cx="92.4" cy="205.0" r="1.28" fill="#3d788a" stroke="#2e5c6c" stroke-width="0.35"/>
<circle cx="104.0" cy="207.6" r="1.28" fill="#3d788a" stroke="#2e5c6c" stroke-width="0.35"/>
<circle cx="105.6" cy="209.6" r="1.28" fill="#cadc84" stroke="#bccf74" stroke-width="0.35"/>
<circle cx="85.0" cy="211.0" r="1.28" fill="#3d788a" stroke="#2e5c6c" stroke-width="0.35"/>
<circle cx="96.0" cy="213.6" r="1.28" fill="#3d788a" stroke="#2e5c6c" stroke-width="0.35"/>
<circle cx="91.0" cy="215.0" r="1.28" fill="#1f3a74" stroke="#152850" stroke-width="0.35"/>
<circle cx="92.0" cy="216.4" r="1.28" fill="#1f3a74" stroke="#152850" stroke-width="0.35"/>
<circle cx="84.0" cy="216.4" r="1.28" fill="#1f3a74" stroke="#152850" stroke-width="0.35"/>
<circle cx="82.4" cy="218.0" r="1.28" fill="#1f3a74" stroke="#152850" stroke-width="0.35"/>
<circle cx="64.0" cy="211.6" r="1.28" fill="#1f3a74" stroke="#152850" stroke-width="0.35"/>
<circle cx="65.6" cy="215.0" r="1.28" fill="#84aa74" stroke="#6c8e60" stroke-width="0.35"/>
<circle cx="63.0" cy="217.6" r="1.28" fill="#1f3a74" stroke="#152850" stroke-width="0.35"/>
<circle cx="65.0" cy="219.0" r="1.28" fill="#cadc84" stroke="#bccf74" stroke-width="0.35"/>
<circle cx="56.4" cy="216.4" r="1.28" fill="#3d788a" stroke="#2e5c6c" stroke-width="0.35"/>
<circle cx="56.0" cy="220.0" r="1.28" fill="#cadc84" stroke="#bccf74" stroke-width="0.35"/>
<circle cx="57.6" cy="220.0" r="1.28" fill="#cadc84" stroke="#bccf74" stroke-width="0.35"/>
<circle cx="55.6" cy="224.0" r="1.28" fill="#cadc84" stroke="#bccf74" stroke-width="0.35"/>
<circle cx="63.6" cy="221.0" r="1.28" fill="#cadc84" stroke="#bccf74" stroke-width="0.35"/>
<circle cx="65.6" cy="223.0" r="1.28" fill="#cadc84" stroke="#bccf74" stroke-width="0.35"/>
<circle cx="63.0" cy="225.0" r="1.28" fill="#1f3a74" stroke="#152850" stroke-width="0.35"/>
<circle cx="74.0" cy="219.0" r="1.28" fill="#cadc84" stroke="#bccf74" stroke-width="0.35"/>
<circle cx="75.0" cy="221.0" r="1.28" fill="#cadc84" stroke="#bccf74" stroke-width="0.35"/>
<circle cx="73.0" cy="222.4" r="1.28" fill="#cadc84" stroke="#bccf74" stroke-width="0.35"/>
<circle cx="92.0" cy="219.0" r="1.28" fill="#cadc84" stroke="#bccf74" stroke-width="0.35"/>
<circle cx="92.0" cy="224.4" r="1.28" fill="#1f3a74" stroke="#152850" stroke-width="0.35"/>
<circle cx="103.0" cy="223.0" r="1.28" fill="#3d788a" stroke="#2e5c6c" stroke-width="0.35"/>
<circle cx="111.6" cy="188.0" r="1.28" fill="#3d788a" stroke="#2e5c6c" stroke-width="0.35"/>
<circle cx="113.6" cy="189.6" r="1.28" fill="#3d788a" stroke="#2e5c6c" stroke-width="0.35"/>
<circle cx="113.0" cy="191.0" r="1.28" fill="#84aa74" stroke="#6c8e60" stroke-width="0.35"/>
<circle cx="118.0" cy="189.0" r="1.28" fill="#cadc84" stroke="#bccf74" stroke-width="0.35"/>
<circle cx="109.0" cy="194.4" r="1.28" fill="#cadc84" stroke="#bccf74" stroke-width="0.35"/>
<circle cx="118.4" cy="194.4" r="1.28" fill="#1f3a74" stroke="#152850" stroke-width="0.35"/>
<circle cx="117.6" cy="195.6" r="1.28" fill="#1f3a74" stroke="#152850" stroke-width="0.35"/>
<circle cx="129.6" cy="195.6" r="1.28" fill="#84aa74" stroke="#6c8e60" stroke-width="0.35"/>
<circle cx="127.6" cy="198.4" r="1.28" fill="#1f3a74" stroke="#152850" stroke-width="0.35"/>
<circle cx="117.0" cy="201.0" r="1.28" fill="#84aa74" stroke="#6c8e60" stroke-width="0.35"/>
<circle cx="124.0" cy="201.0" r="1.28" fill="#cadc84" stroke="#bccf74" stroke-width="0.35"/>
<circle cx="136.4" cy="203.6" r="1.28" fill="#1f3a74" stroke="#152850" stroke-width="0.35"/>
<circle cx="108.0" cy="209.6" r="1.28" fill="#1f3a74" stroke="#152850" stroke-width="0.35"/>
<circle cx="111.0" cy="209.6" r="1.28" fill="#cadc84" stroke="#bccf74" stroke-width="0.35"/>
<circle cx="126.4" cy="209.6" r="1.28" fill="#1f3a74" stroke="#152850" stroke-width="0.35"/>
<circle cx="146.0" cy="212.0" r="1.28" fill="#84aa74" stroke="#6c8e60" stroke-width="0.35"/>
<circle cx="150.4" cy="210.4" r="1.28" fill="#1f3a74" stroke="#152850" stroke-width="0.35"/>
<circle cx="117.0" cy="215.0" r="1.28" fill="#1f3a74" stroke="#152850" stroke-width="0.35"/>
<circle cx="126.4" cy="214.4" r="1.28" fill="#cadc84" stroke="#bccf74" stroke-width="0.35"/>
<circle cx="130.4" cy="215.6" r="1.28" fill="#84aa74" stroke="#6c8e60" stroke-width="0.35"/>
<circle cx="136.4" cy="216.0" r="1.28" fill="#1f3a74" stroke="#152850" stroke-width="0.35"/>
<circle cx="121.6" cy="220.0" r="1.28" fill="#84aa74" stroke="#6c8e60" stroke-width="0.35"/>
<circle cx="123.0" cy="221.0" r="1.28" fill="#3d788a" stroke="#2e5c6c" stroke-width="0.35"/>
<circle cx="119.6" cy="221.6" r="1.28" fill="#cadc84" stroke="#bccf74" stroke-width="0.35"/>
<circle cx="130.0" cy="221.0" r="1.28" fill="#cadc84" stroke="#bccf74" stroke-width="0.35"/>
<circle cx="112.0" cy="225.0" r="1.28" fill="#1f3a74" stroke="#152850" stroke-width="0.35"/>
<circle cx="118.4" cy="224.4" r="1.28" fill="#cadc84" stroke="#bccf74" stroke-width="0.35"/>
<circle cx="36.4" cy="229.0" r="1.28" fill="#84aa74" stroke="#6c8e60" stroke-width="0.35"/>
<circle cx="47.0" cy="229.0" r="1.28" fill="#84aa74" stroke="#6c8e60" stroke-width="0.35"/>
<circle cx="60.0" cy="228.0" r="1.28" fill="#cadc84" stroke="#bccf74" stroke-width="0.35"/>
<circle cx="62.0" cy="229.0" r="1.28" fill="#84aa74" stroke="#6c8e60" stroke-width="0.35"/>
<circle cx="72.4" cy="227.6" r="1.28" fill="#cadc84" stroke="#bccf74" stroke-width="0.35"/>
<circle cx="55.0" cy="232.4" r="1.28" fill="#cadc84" stroke="#bccf74" stroke-width="0.35"/>
<circle cx="73.6" cy="232.4" r="1.28" fill="#cadc84" stroke="#bccf74" stroke-width="0.35"/>
<circle cx="84.4" cy="228.4" r="1.28" fill="#84aa74" stroke="#6c8e60" stroke-width="0.35"/>
<circle cx="49.6" cy="238.4" r="1.28" fill="#cadc84" stroke="#bccf74" stroke-width="0.35"/>
<circle cx="53.6" cy="241.6" r="1.28" fill="#cadc84" stroke="#bccf74" stroke-width="0.35"/>
<circle cx="77.0" cy="239.0" r="1.28" fill="#cadc84" stroke="#bccf74" stroke-width="0.35"/>
<circle cx="84.4" cy="240.4" r="1.28" fill="#84aa74" stroke="#6c8e60" stroke-width="0.35"/>
<circle cx="96.0" cy="237.0" r="1.28" fill="#1f3a74" stroke="#152850" stroke-width="0.35"/>
<circle cx="104.4" cy="235.0" r="1.28" fill="#1f3a74" stroke="#152850" stroke-width="0.35"/>
<circle cx="97.6" cy="243.6" r="1.28" fill="#cadc84" stroke="#bccf74" stroke-width="0.35"/>
<circle cx="86.4" cy="246.4" r="1.28" fill="#84aa74" stroke="#6c8e60" stroke-width="0.35"/>
<circle cx="67.6" cy="252.4" r="1.28" fill="#cadc84" stroke="#bccf74" stroke-width="0.35"/>
<circle cx="65.6" cy="255.0" r="1.28" fill="#cadc84" stroke="#bccf74" stroke-width="0.35"/>
<circle cx="80.0" cy="252.4" r="1.28" fill="#cadc84" stroke="#bccf74" stroke-width="0.35"/>
<circle cx="93.0" cy="250.4" r="1.28" fill="#84aa74" stroke="#6c8e60" stroke-width="0.35"/>
<circle cx="54.0" cy="257.6" r="1.28" fill="#84aa74" stroke="#6c8e60" stroke-width="0.35"/>
<circle cx="57.0" cy="262.0" r="1.28" fill="#cadc84" stroke="#bccf74" stroke-width="0.35"/>
<circle cx="73.0" cy="259.0" r="1.28" fill="#84aa74" stroke="#6c8e60" stroke-width="0.35"/>
<circle cx="73.6" cy="261.0" r="1.28" fill="#84aa74" stroke="#6c8e60" stroke-width="0.35"/>
<circle cx="85.6" cy="261.6" r="1.28" fill="#cadc84" stroke="#bccf74" stroke-width="0.35"/>
<circle cx="92.0" cy="258.4" r="1.28" fill="#3d788a" stroke="#2e5c6c" stroke-width="0.35"/>
<circle cx="103.0" cy="256.0" r="1.28" fill="#84aa74" stroke="#6c8e60" stroke-width="0.35"/>
<circle cx="104.4" cy="257.0" r="1.28" fill="#3d788a" stroke="#2e5c6c" stroke-width="0.35"/>
<circle cx="102.0" cy="259.0" r="1.28" fill="#cadc84" stroke="#bccf74" stroke-width="0.35"/>
<circle cx="77.0" cy="265.6" r="1.28" fill="#cadc84" stroke="#bccf74" stroke-width="0.35"/>
<circle cx="93.0" cy="265.6" r="1.28" fill="#1f3a74" stroke="#152850" stroke-width="0.35"/>
<circle cx="95.6" cy="267.0" r="1.28" fill="#1f3a74" stroke="#152850" stroke-width="0.35"/>
<circle cx="98.4" cy="267.6" r="1.28" fill="#1f3a74" stroke="#152850" stroke-width="0.35"/>
<circle cx="103.0" cy="270.4" r="1.28" fill="#cadc84" stroke="#bccf74" stroke-width="0.35"/>
<circle cx="104.4" cy="272.4" r="1.28" fill="#3d788a" stroke="#2e5c6c" stroke-width="0.35"/>
<circle cx="56.0" cy="272.0" r="1.28" fill="#3d788a" stroke="#2e5c6c" stroke-width="0.35"/>
<circle cx="67.0" cy="272.4" r="1.28" fill="#cadc84" stroke="#bccf74" stroke-width="0.35"/>
<circle cx="81.0" cy="272.0" r="1.28" fill="#3d788a" stroke="#2e5c6c" stroke-width="0.35"/>
<circle cx="73.0" cy="275.0" r="1.28" fill="#cadc84" stroke="#bccf74" stroke-width="0.35"/>
<circle cx="85.6" cy="274.0" r="1.28" fill="#cadc84" stroke="#bccf74" stroke-width="0.35"/>
<circle cx="88.0" cy="279.0" r="1.28" fill="#cadc84" stroke="#bccf74" stroke-width="0.35"/>
<circle cx="91.0" cy="279.0" r="1.28" fill="#3d788a" stroke="#2e5c6c" stroke-width="0.35"/>
<circle cx="96.4" cy="278.4" r="1.28" fill="#1f3a74" stroke="#152850" stroke-width="0.35"/>
<circle cx="104.4" cy="276.4" r="1.28" fill="#cadc84" stroke="#bccf74" stroke-width="0.35"/>
<circle cx="109.0" cy="228.4" r="1.28" fill="#3d788a" stroke="#2e5c6c" stroke-width="0.35"/>
<circle cx="115.0" cy="228.4" r="1.28" fill="#3d788a" stroke="#2e5c6c" stroke-width="0.35"/>
<circle cx="118.4" cy="226.4" r="1.28" fill="#1f3a74" stroke="#152850" stroke-width="0.35"/>
<circle cx="107.6" cy="233.0" r="1.28" fill="#84aa74" stroke="#6c8e60" stroke-width="0.35"/>
<circle cx="113.6" cy="235.0" r="1.28" fill="#84aa74" stroke="#6c8e60" stroke-width="0.35"/>
<circle cx="130.4" cy="230.4" r="1.28" fill="#84aa74" stroke="#6c8e60" stroke-width="0.35"/>
<circle cx="132.0" cy="228.0" r="1.28" fill="#cadc84" stroke="#bccf74" stroke-width="0.35"/>
<circle cx="136.0" cy="235.6" r="1.28" fill="#84aa74" stroke="#6c8e60" stroke-width="0.35"/>
<circle cx="144.4" cy="232.4" r="1.28" fill="#3d788a" stroke="#2e5c6c" stroke-width="0.35"/>
<circle cx="150.4" cy="227.6" r="1.28" fill="#84aa74" stroke="#6c8e60" stroke-width="0.35"/>
<circle cx="161.6" cy="227.0" r="1.28" fill="#3d788a" stroke="#2e5c6c" stroke-width="0.35"/>
<circle cx="165.0" cy="234.4" r="1.28" fill="#84aa74" stroke="#6c8e60" stroke-width="0.35"/>
<circle cx="110.0" cy="244.4" r="1.28" fill="#cadc84" stroke="#bccf74" stroke-width="0.35"/>
<circle cx="111.0" cy="246.0" r="1.28" fill="#3d788a" stroke="#2e5c6c" stroke-width="0.35"/>
<circle cx="118.4" cy="241.6" r="1.28" fill="#84aa74" stroke="#6c8e60" stroke-width="0.35"/>
<circle cx="127.0" cy="239.6" r="1.28" fill="#84aa74" stroke="#6c8e60" stroke-width="0.35"/>
<circle cx="124.4" cy="243.6" r="1.28" fill="#84aa74" stroke="#6c8e60" stroke-width="0.35"/>
<circle cx="123.0" cy="246.0" r="1.28" fill="#84aa74" stroke="#6c8e60" stroke-width="0.35"/>
<circle cx="134.0" cy="242.4" r="1.28" fill="#1f3a74" stroke="#152850" stroke-width="0.35"/>
<circle cx="136.0" cy="245.0" r="1.28" fill="#84aa74" stroke="#6c8e60" stroke-width="0.35"/>
<circle cx="137.6" cy="247.0" r="1.28" fill="#84aa74" stroke="#6c8e60" stroke-width="0.35"/>
<circle cx="139.6" cy="247.6" r="1.28" fill="#3d788a" stroke="#2e5c6c" stroke-width="0.35"/>
<circle cx="130.0" cy="249.6" r="1.28" fill="#cadc84" stroke="#bccf74" stroke-width="0.35"/>
<circle cx="126.0" cy="252.4" r="1.28" fill="#cadc84" stroke="#bccf74" stroke-width="0.35"/>
<circle cx="117.6" cy="253.6" r="1.28" fill="#84aa74" stroke="#6c8e60" stroke-width="0.35"/>
<circle cx="136.0" cy="255.6" r="1.28" fill="#3d788a" stroke="#2e5c6c" stroke-width="0.35"/>
<circle cx="138.0" cy="257.0" r="1.28" fill="#84aa74" stroke="#6c8e60" stroke-width="0.35"/>
<circle cx="107.6" cy="257.6" r="1.28" fill="#84aa74" stroke="#6c8e60" stroke-width="0.35"/>
<circle cx="161.6" cy="239.6" r="1.28" fill="#1f3a74" stroke="#152850" stroke-width="0.35"/>
<circle cx="165.0" cy="241.0" r="1.28" fill="#1f3a74" stroke="#152850" stroke-width="0.35"/>
<circle cx="164.0" cy="245.0" r="1.28" fill="#1f3a74" stroke="#152850" stroke-width="0.35"/>
<circle cx="169.6" cy="246.4" r="1.28" fill="#1f3a74" stroke="#152850" stroke-width="0.35"/>
<circle cx="180.0" cy="242.4" r="1.28" fill="#3d788a" stroke="#2e5c6c" stroke-width="0.35"/>
<circle cx="179.0" cy="246.0" r="1.28" fill="#cadc84" stroke="#bccf74" stroke-width="0.35"/>
<circle cx="184.0" cy="249.6" r="1.28" fill="#a61a24" stroke="#7c1018" stroke-width="0.35"/>
<circle cx="173.6" cy="253.0" r="1.28" fill="#cadc84" stroke="#bccf74" stroke-width="0.35"/>
<circle cx="177.0" cy="255.6" r="1.28" fill="#1f3a74" stroke="#152850" stroke-width="0.35"/>
<circle cx="163.0" cy="256.4" r="1.28" fill="#1f3a74" stroke="#152850" stroke-width="0.35"/>
<circle cx="122.0" cy="260.4" r="1.28" fill="#84aa74" stroke="#6c8e60" stroke-width="0.35"/>
<circle cx="128.0" cy="259.6" r="1.28" fill="#84aa74" stroke="#6c8e60" stroke-width="0.35"/>
<circle cx="124.0" cy="263.6" r="1.28" fill="#3d788a" stroke="#2e5c6c" stroke-width="0.35"/>
<circle cx="136.0" cy="263.6" r="1.28" fill="#84aa74" stroke="#6c8e60" stroke-width="0.35"/>
<circle cx="149.6" cy="259.6" r="1.28" fill="#3d788a" stroke="#2e5c6c" stroke-width="0.35"/>
<circle cx="148.0" cy="261.6" r="1.28" fill="#84aa74" stroke="#6c8e60" stroke-width="0.35"/>
<circle cx="146.0" cy="264.4" r="1.28" fill="#cadc84" stroke="#bccf74" stroke-width="0.35"/>
<circle cx="156.0" cy="261.6" r="1.28" fill="#1f3a74" stroke="#152850" stroke-width="0.35"/>
<circle cx="185.0" cy="259.0" r="1.28" fill="#a61a24" stroke="#7c1018" stroke-width="0.35"/>
<circle cx="178.4" cy="261.0" r="1.28" fill="#1f3a74" stroke="#152850" stroke-width="0.35"/>
<circle cx="177.0" cy="265.6" r="1.28" fill="#1f3a74" stroke="#152850" stroke-width="0.35"/>
<circle cx="178.0" cy="267.0" r="1.28" fill="#1f3a74" stroke="#152850" stroke-width="0.35"/>
<circle cx="183.0" cy="265.0" r="1.28" fill="#1f3a74" stroke="#152850" stroke-width="0.35"/>
<circle cx="185.0" cy="267.0" r="1.28" fill="#1f3a74" stroke="#152850" stroke-width="0.35"/>
<circle cx="165.0" cy="267.0" r="1.28" fill="#1f3a74" stroke="#152850" stroke-width="0.35"/>
<circle cx="167.0" cy="267.6" r="1.28" fill="#1f3a74" stroke="#152850" stroke-width="0.35"/>
<circle cx="161.6" cy="269.0" r="1.28" fill="#1f3a74" stroke="#152850" stroke-width="0.35"/>
<circle cx="164.0" cy="271.6" r="1.28" fill="#1f3a74" stroke="#152850" stroke-width="0.35"/>
<circle cx="161.6" cy="272.4" r="1.28" fill="#1f3a74" stroke="#152850" stroke-width="0.35"/>
<circle cx="183.6" cy="269.0" r="1.28" fill="#1f3a74" stroke="#152850" stroke-width="0.35"/>
<circle cx="118.4" cy="268.4" r="1.28" fill="#3d788a" stroke="#2e5c6c" stroke-width="0.35"/>
<circle cx="120.0" cy="269.0" r="1.28" fill="#3d788a" stroke="#2e5c6c" stroke-width="0.35"/>
<circle cx="148.0" cy="269.0" r="1.28" fill="#3d788a" stroke="#2e5c6c" stroke-width="0.35"/>
<circle cx="150.4" cy="269.0" r="1.28" fill="#84aa74" stroke="#6c8e60" stroke-width="0.35"/>
<circle cx="106.0" cy="269.0" r="1.28" fill="#cadc84" stroke="#bccf74" stroke-width="0.35"/>
<circle cx="110.0" cy="270.4" r="1.28" fill="#cadc84" stroke="#bccf74" stroke-width="0.35"/>
<circle cx="129.6" cy="271.6" r="1.28" fill="#1f3a74" stroke="#152850" stroke-width="0.35"/>
<circle cx="134.0" cy="271.6" r="1.28" fill="#1f3a74" stroke="#152850" stroke-width="0.35"/>
<circle cx="138.4" cy="272.4" r="1.28" fill="#1f3a74" stroke="#152850" stroke-width="0.35"/>
<circle cx="124.4" cy="274.4" r="1.28" fill="#84aa74" stroke="#6c8e60" stroke-width="0.35"/>
<circle cx="114.0" cy="277.6" r="1.28" fill="#3d788a" stroke="#2e5c6c" stroke-width="0.35"/>
<circle cx="142.4" cy="277.6" r="1.28" fill="#1f3a74" stroke="#152850" stroke-width="0.35"/>
<circle cx="154.4" cy="276.0" r="1.28" fill="#84aa74" stroke="#6c8e60" stroke-width="0.35"/>
<circle cx="169.6" cy="275.0" r="1.28" fill="#a61a24" stroke="#7c1018" stroke-width="0.35"/>
<circle cx="170.4" cy="277.0" r="1.28" fill="#a61a24" stroke="#7c1018" stroke-width="0.35"/>
<circle cx="119.0" cy="279.6" r="1.28" fill="#cadc84" stroke="#bccf74" stroke-width="0.35"/>
<circle cx="132.0" cy="279.0" r="1.28" fill="#84aa74" stroke="#6c8e60" stroke-width="0.35"/>
<circle cx="197.0" cy="228.0" r="1.28" fill="#a61a24" stroke="#7c1018" stroke-width="0.35"/>
<circle cx="208.0" cy="232.0" r="1.28" fill="#a61a24" stroke="#7c1018" stroke-width="0.35"/>
<circle cx="197.6" cy="239.0" r="1.28" fill="#84aa74" stroke="#6c8e60" stroke-width="0.35"/>
<circle cx="190.0" cy="251.0" r="1.28" fill="#a61a24" stroke="#7c1018" stroke-width="0.35"/>
<circle cx="194.0" cy="252.0" r="1.28" fill="#1f3a74" stroke="#152850" stroke-width="0.35"/>
<circle cx="191.0" cy="255.0" r="1.28" fill="#1f3a74" stroke="#152850" stroke-width="0.35"/>
<circle cx="189.0" cy="256.0" r="1.28" fill="#1f3a74" stroke="#152850" stroke-width="0.35"/>
<circle cx="192.0" cy="258.4" r="1.28" fill="#1f3a74" stroke="#152850" stroke-width="0.35"/>
<circle cx="187.0" cy="261.0" r="1.28" fill="#1f3a74" stroke="#152850" stroke-width="0.35"/>
<circle cx="189.0" cy="263.0" r="1.28" fill="#1f3a74" stroke="#152850" stroke-width="0.35"/>
<circle cx="193.0" cy="263.6" r="1.28" fill="#1f3a74" stroke="#152850" stroke-width="0.35"/>
<circle cx="187.0" cy="266.0" r="1.28" fill="#1f3a74" stroke="#152850" stroke-width="0.35"/>
<circle cx="190.0" cy="268.0" r="1.28" fill="#1f3a74" stroke="#152850" stroke-width="0.35"/>
<circle cx="193.6" cy="267.6" r="1.28" fill="#1f3a74" stroke="#152850" stroke-width="0.35"/>
<circle cx="190.4" cy="270.4" r="1.28" fill="#a61a24" stroke="#7c1018" stroke-width="0.35"/>
<circle cx="200.4" cy="251.0" r="1.28" fill="#1f3a74" stroke="#152850" stroke-width="0.35"/>
<circle cx="202.0" cy="253.6" r="1.28" fill="#1f3a74" stroke="#152850" stroke-width="0.35"/>
<circle cx="199.6" cy="256.4" r="1.28" fill="#1f3a74" stroke="#152850" stroke-width="0.35"/>
<circle cx="202.0" cy="257.6" r="1.28" fill="#1f3a74" stroke="#152850" stroke-width="0.35"/>
<circle cx="201.6" cy="262.0" r="1.28" fill="#1f3a74" stroke="#152850" stroke-width="0.35"/>
<circle cx="203.0" cy="264.0" r="1.28" fill="#1f3a74" stroke="#152850" stroke-width="0.35"/>
<circle cx="208.8" cy="250.2" r="1.28" fill="#1f3a74" stroke="#152850" stroke-width="0.35"/>
<circle cx="210.6" cy="252.8" r="1.28" fill="#a61a24" stroke="#7c1018" stroke-width="0.35"/>
<circle cx="208.1" cy="255.9" r="1.28" fill="#1f3a74" stroke="#152850" stroke-width="0.35"/>
<circle cx="215.6" cy="259.0" r="1.28" fill="#a61a24" stroke="#7c1018" stroke-width="0.35"/>
<circle cx="216.2" cy="245.9" r="1.28" fill="#a61a24" stroke="#7c1018" stroke-width="0.35"/>
<circle cx="217.5" cy="249.0" r="1.28" fill="#a61a24" stroke="#7c1018" stroke-width="0.35"/>
<circle cx="215.0" cy="252.8" r="1.28" fill="#a61a24" stroke="#7c1018" stroke-width="0.35"/>
<circle cx="216.9" cy="252.1" r="1.28" fill="#a61a24" stroke="#7c1018" stroke-width="0.35"/>
<circle cx="220.0" cy="250.2" r="1.28" fill="#1f3a74" stroke="#152850" stroke-width="0.35"/>
<circle cx="221.2" cy="249.0" r="1.28" fill="#a61a24" stroke="#7c1018" stroke-width="0.35"/>
<circle cx="220.6" cy="253.4" r="1.28" fill="#a61a24" stroke="#7c1018" stroke-width="0.35"/>
<circle cx="219.4" cy="256.2" r="1.28" fill="#1f3a74" stroke="#152850" stroke-width="0.35"/>
<circle cx="223.8" cy="256.5" r="1.28" fill="#1f3a74" stroke="#152850" stroke-width="0.35"/>
<circle cx="223.8" cy="250.2" r="1.28" fill="#1f3a74" stroke="#152850" stroke-width="0.35"/>
<circle cx="225.6" cy="247.8" r="1.28" fill="#a61a24" stroke="#7c1018" stroke-width="0.35"/>
<circle cx="226.9" cy="250.2" r="1.28" fill="#1f3a74" stroke="#152850" stroke-width="0.35"/>
<circle cx="227.5" cy="241.8" r="1.28" fill="#a61a24" stroke="#7c1018" stroke-width="0.35"/>
<circle cx="228.8" cy="245.9" r="1.28" fill="#a61a24" stroke="#7c1018" stroke-width="0.35"/>
<circle cx="230.6" cy="245.5" r="1.28" fill="#a61a24" stroke="#7c1018" stroke-width="0.35"/>
<circle cx="228.8" cy="254.0" r="1.28" fill="#a61a24" stroke="#7c1018" stroke-width="0.35"/>
<circle cx="231.9" cy="255.9" r="1.28" fill="#a61a24" stroke="#7c1018" stroke-width="0.35"/>
<circle cx="233.1" cy="242.5" r="1.28" fill="#a61a24" stroke="#7c1018" stroke-width="0.35"/>
<circle cx="233.1" cy="249.6" r="1.28" fill="#a61a24" stroke="#7c1018" stroke-width="0.35"/>
<circle cx="235.6" cy="246.5" r="1.28" fill="#a61a24" stroke="#7c1018" stroke-width="0.35"/>
<circle cx="237.5" cy="245.9" r="1.28" fill="#a61a24" stroke="#7c1018" stroke-width="0.35"/>
<circle cx="238.5" cy="248.4" r="1.28" fill="#a61a24" stroke="#7c1018" stroke-width="0.35"/>
<circle cx="241.2" cy="249.0" r="1.28" fill="#a61a24" stroke="#7c1018" stroke-width="0.35"/>
<circle cx="238.8" cy="243.4" r="1.28" fill="#a61a24" stroke="#7c1018" stroke-width="0.35"/>
<circle cx="242.5" cy="242.8" r="1.28" fill="#a61a24" stroke="#7c1018" stroke-width="0.35"/>
<circle cx="242.5" cy="244.6" r="1.28" fill="#a61a24" stroke="#7c1018" stroke-width="0.35"/>
<circle cx="246.9" cy="246.5" r="1.28" fill="#a61a24" stroke="#7c1018" stroke-width="0.35"/>
<circle cx="246.9" cy="242.1" r="1.28" fill="#a61a24" stroke="#7c1018" stroke-width="0.35"/>
<circle cx="248.1" cy="240.9" r="1.28" fill="#a61a24" stroke="#7c1018" stroke-width="0.35"/>
<circle cx="248.8" cy="239.2" r="1.28" fill="#a61a24" stroke="#7c1018" stroke-width="0.35"/>
<circle cx="249.4" cy="242.8" r="1.28" fill="#a61a24" stroke="#7c1018" stroke-width="0.35"/>
<circle cx="54.0" cy="289.0" r="1.28" fill="#84aa74" stroke="#6c8e60" stroke-width="0.35"/>
<circle cx="63.0" cy="287.0" r="1.28" fill="#1f3a74" stroke="#152850" stroke-width="0.35"/>
<circle cx="65.6" cy="283.6" r="1.28" fill="#1f3a74" stroke="#152850" stroke-width="0.35"/>
<circle cx="68.0" cy="283.6" r="1.28" fill="#1f3a74" stroke="#152850" stroke-width="0.35"/>
<circle cx="76.4" cy="283.6" r="1.28" fill="#84aa74" stroke="#6c8e60" stroke-width="0.35"/>
<circle cx="81.0" cy="286.0" r="1.28" fill="#cadc84" stroke="#bccf74" stroke-width="0.35"/>
<circle cx="91.0" cy="280.0" r="1.28" fill="#1f3a74" stroke="#152850" stroke-width="0.35"/>
<circle cx="70.0" cy="299.6" r="1.28" fill="#1f3a74" stroke="#152850" stroke-width="0.35"/>
<circle cx="64.0" cy="311.0" r="1.28" fill="#cadc84" stroke="#bccf74" stroke-width="0.35"/>
<circle cx="86.4" cy="299.6" r="1.28" fill="#84aa74" stroke="#6c8e60" stroke-width="0.35"/>
<circle cx="90.4" cy="299.6" r="1.28" fill="#3d788a" stroke="#2e5c6c" stroke-width="0.35"/>
<circle cx="93.0" cy="302.4" r="1.28" fill="#1f3a74" stroke="#152850" stroke-width="0.35"/>
<circle cx="97.0" cy="302.4" r="1.28" fill="#cadc84" stroke="#bccf74" stroke-width="0.35"/>
<circle cx="99.6" cy="303.0" r="1.28" fill="#3d788a" stroke="#2e5c6c" stroke-width="0.35"/>
<circle cx="102.4" cy="300.0" r="1.28" fill="#3d788a" stroke="#2e5c6c" stroke-width="0.35"/>
<circle cx="103.6" cy="297.6" r="1.28" fill="#3d788a" stroke="#2e5c6c" stroke-width="0.35"/>
<circle cx="104.4" cy="301.6" r="1.28" fill="#cadc84" stroke="#bccf74" stroke-width="0.35"/>
<circle cx="92.0" cy="306.0" r="1.28" fill="#1f3a74" stroke="#152850" stroke-width="0.35"/>
<circle cx="96.0" cy="306.0" r="1.28" fill="#1f3a74" stroke="#152850" stroke-width="0.35"/>
<circle cx="97.0" cy="309.0" r="1.28" fill="#3d788a" stroke="#2e5c6c" stroke-width="0.35"/>
<circle cx="95.0" cy="311.6" r="1.28" fill="#cadc84" stroke="#bccf74" stroke-width="0.35"/>
<circle cx="82.4" cy="303.0" r="1.28" fill="#cadc84" stroke="#bccf74" stroke-width="0.35"/>
<circle cx="81.0" cy="306.0" r="1.28" fill="#cadc84" stroke="#bccf74" stroke-width="0.35"/>
<circle cx="81.6" cy="310.0" r="1.28" fill="#cadc84" stroke="#bccf74" stroke-width="0.35"/>
<circle cx="83.0" cy="312.0" r="1.28" fill="#84aa74" stroke="#6c8e60" stroke-width="0.35"/>
<circle cx="84.0" cy="314.0" r="1.28" fill="#84aa74" stroke="#6c8e60" stroke-width="0.35"/>
<circle cx="80.4" cy="315.6" r="1.28" fill="#cadc84" stroke="#bccf74" stroke-width="0.35"/>
<circle cx="79.0" cy="317.6" r="1.28" fill="#cadc84" stroke="#bccf74" stroke-width="0.35"/>
<circle cx="77.6" cy="313.0" r="1.28" fill="#cadc84" stroke="#bccf74" stroke-width="0.35"/>
<circle cx="87.0" cy="316.0" r="1.28" fill="#1f3a74" stroke="#152850" stroke-width="0.35"/>
<circle cx="89.6" cy="316.0" r="1.28" fill="#1f3a74" stroke="#152850" stroke-width="0.35"/>
<circle cx="92.0" cy="315.6" r="1.28" fill="#cadc84" stroke="#bccf74" stroke-width="0.35"/>
<circle cx="87.0" cy="322.0" r="1.28" fill="#84aa74" stroke="#6c8e60" stroke-width="0.35"/>
<circle cx="79.0" cy="324.4" r="1.28" fill="#cadc84" stroke="#bccf74" stroke-width="0.35"/>
<circle cx="105.0" cy="310.4" r="1.28" fill="#1f3a74" stroke="#152850" stroke-width="0.35"/>
<circle cx="119.0" cy="282.0" r="1.28" fill="#84aa74" stroke="#6c8e60" stroke-width="0.35"/>
<circle cx="124.4" cy="282.0" r="1.28" fill="#3d788a" stroke="#2e5c6c" stroke-width="0.35"/>
<circle cx="127.6" cy="283.6" r="1.28" fill="#1f3a74" stroke="#152850" stroke-width="0.35"/>
<circle cx="134.0" cy="280.0" r="1.28" fill="#cadc84" stroke="#bccf74" stroke-width="0.35"/>
<circle cx="138.0" cy="282.4" r="1.28" fill="#1f3a74" stroke="#152850" stroke-width="0.35"/>
<circle cx="147.0" cy="280.0" r="1.28" fill="#1f3a74" stroke="#152850" stroke-width="0.35"/>
<circle cx="143.0" cy="286.0" r="1.28" fill="#1f3a74" stroke="#152850" stroke-width="0.35"/>
<circle cx="144.4" cy="288.4" r="1.28" fill="#1f3a74" stroke="#152850" stroke-width="0.35"/>
<circle cx="120.0" cy="287.0" r="1.28" fill="#84aa74" stroke="#6c8e60" stroke-width="0.35"/>
<circle cx="118.0" cy="288.4" r="1.28" fill="#cadc84" stroke="#bccf74" stroke-width="0.35"/>
<circle cx="107.0" cy="287.6" r="1.28" fill="#cadc84" stroke="#bccf74" stroke-width="0.35"/>
<circle cx="109.0" cy="293.0" r="1.28" fill="#3d788a" stroke="#2e5c6c" stroke-width="0.35"/>
<circle cx="116.0" cy="292.0" r="1.28" fill="#84aa74" stroke="#6c8e60" stroke-width="0.35"/>
<circle cx="136.0" cy="291.6" r="1.28" fill="#1f3a74" stroke="#152850" stroke-width="0.35"/>
<circle cx="122.0" cy="298.0" r="1.28" fill="#84aa74" stroke="#6c8e60" stroke-width="0.35"/>
<circle cx="124.4" cy="300.0" r="1.28" fill="#3d788a" stroke="#2e5c6c" stroke-width="0.35"/>
<circle cx="129.6" cy="296.4" r="1.28" fill="#1f3a74" stroke="#152850" stroke-width="0.35"/>
<circle cx="110.0" cy="304.4" r="1.28" fill="#cadc84" stroke="#bccf74" stroke-width="0.35"/>
<circle cx="106.0" cy="310.4" r="1.28" fill="#3d788a" stroke="#2e5c6c" stroke-width="0.35"/>
</g>
<rect x="26.40" y="176.00" width="233.80" height="155.40" fill="none" stroke="#555555" stroke-width="0.8"/>
<line x1="75.50" y1="331.40" x2="75.50" y2="333.00" stroke="#555555" stroke-width="0.6"/>
<text x="75.50" y="336.00" font-size="3.55" text-anchor="middle" fill="#4d4d4d" font-weight="normal" stroke="#4d4d4d" stroke-width="0.1">-0.2</text>
<line x1="134.30" y1="331.40" x2="134.30" y2="333.00" stroke="#555555" stroke-width="0.6"/>
<text x="134.30" y="336.00" font-size="3.55" text-anchor="middle" fill="#4d4d4d" font-weight="normal" stroke="#4d4d4d" stroke-width="0.1">0.0</text>
<line x1="193.10" y1="331.40" x2="193.10" y2="333.00" stroke="#555555" stroke-width="0.6"/>
<text x="193.10" y="336.00" font-size="3.55" text-anchor="middle" fill="#4d4d4d" font-weight="normal" stroke="#4d4d4d" stroke-width="0.1">0.2</text>
<line x1="251.90" y1="331.40" x2="251.90" y2="333.00" stroke="#555555" stroke-width="0.6"/>
<text x="251.90" y="336.00" font-size="3.55" text-anchor="middle" fill="#4d4d4d" font-weight="normal" stroke="#4d4d4d" stroke-width="0.1">0.4</text>
<line x1="24.80" y1="176.58" x2="26.40" y2="176.58" stroke="#555555" stroke-width="0.6"/>
<text x="24.20" y="177.83" font-size="3.55" text-anchor="end" fill="#4d4d4d" font-weight="normal" stroke="#4d4d4d" stroke-width="0.1">0.4</text>
<line x1="24.80" y1="214.04" x2="26.40" y2="214.04" stroke="#555555" stroke-width="0.6"/>
<text x="24.20" y="215.29" font-size="3.55" text-anchor="end" fill="#4d4d4d" font-weight="normal" stroke="#4d4d4d" stroke-width="0.1">0.2</text>
<line x1="24.80" y1="251.50" x2="26.40" y2="251.50" stroke="#555555" stroke-width="0.6"/>
<text x="24.20" y="252.75" font-size="3.55" text-anchor="end" fill="#4d4d4d" font-weight="normal" stroke="#4d4d4d" stroke-width="0.1">0.0</text>
<line x1="24.80" y1="288.96" x2="26.40" y2="288.96" stroke="#555555" stroke-width="0.6"/>
<text x="24.20" y="290.21" font-size="3.55" text-anchor="end" fill="#4d4d4d" font-weight="normal" stroke="#4d4d4d" stroke-width="0.1">-0.2</text>
<line x1="24.80" y1="326.42" x2="26.40" y2="326.42" stroke="#555555" stroke-width="0.6"/>
<text x="24.20" y="327.67" font-size="3.55" text-anchor="end" fill="#4d4d4d" font-weight="normal" stroke="#4d4d4d" stroke-width="0.1">-0.4</text>
<text x="143.30" y="341.30" font-size="4.45" text-anchor="middle" fill="#111" font-weight="normal" stroke="#111" stroke-width="0.1">PCOA1 : 22.57%</text>
<text x="13.80" y="253.70" font-size="4.45" text-anchor="middle" fill="#111" font-weight="normal" stroke="#111" stroke-width="0.1" transform="rotate(-90 13.80 253.70)">PCOA2 : 18.30%</text>
<text x="0" y="0" font-size="7.8" text-anchor="start" fill="#000" font-weight="bold" transform="translate(2.70 7.60) scale(0.86 1)">A</text>
<text x="0" y="0" font-size="7.6" text-anchor="start" fill="#000" font-weight="bold" transform="translate(263.80 7.40) scale(0.82 1)">B</text>
<text x="0" y="0" font-size="7.8" text-anchor="start" fill="#000" font-weight="bold" transform="translate(2.70 174.50) scale(0.86 1)">C</text>
<text x="0" y="0" font-size="7.6" text-anchor="start" fill="#000" font-weight="bold" transform="translate(263.80 175.00) scale(0.84 1)">D</text>
<rect x="285.20" y="3.40" width="107.10" height="75.70" fill="#fff" stroke="none" stroke-width="0"/>
<line x1="285.20" y1="68.88" x2="392.30" y2="68.88" stroke="#ebebeb" stroke-width="0.45"/>
<line x1="285.20" y1="50.62" x2="392.30" y2="50.62" stroke="#ebebeb" stroke-width="0.45"/>
<line x1="285.20" y1="32.38" x2="392.30" y2="32.38" stroke="#ebebeb" stroke-width="0.45"/>
<line x1="285.20" y1="14.12" x2="392.30" y2="14.12" stroke="#ebebeb" stroke-width="0.45"/>
<line x1="285.20" y1="78.00" x2="392.30" y2="78.00" stroke="#ebebeb" stroke-width="0.7"/>
<line x1="285.20" y1="59.75" x2="392.30" y2="59.75" stroke="#ebebeb" stroke-width="0.7"/>
<line x1="285.20" y1="41.50" x2="392.30" y2="41.50" stroke="#ebebeb" stroke-width="0.7"/>
<line x1="285.20" y1="23.25" x2="392.30" y2="23.25" stroke="#ebebeb" stroke-width="0.7"/>
<line x1="285.20" y1="5.00" x2="392.30" y2="5.00" stroke="#ebebeb" stroke-width="0.7"/>
<line x1="297.56" y1="3.40" x2="297.56" y2="79.10" stroke="#ebebeb" stroke-width="0.7"/>
<line x1="318.15" y1="3.40" x2="318.15" y2="79.10" stroke="#ebebeb" stroke-width="0.7"/>
<line x1="338.75" y1="3.40" x2="338.75" y2="79.10" stroke="#ebebeb" stroke-width="0.7"/>
<line x1="359.35" y1="3.40" x2="359.35" y2="79.10" stroke="#ebebeb" stroke-width="0.7"/>
<line x1="379.94" y1="3.40" x2="379.94" y2="79.10" stroke="#ebebeb" stroke-width="0.7"/>
<line x1="297.56" y1="55.70" x2="297.56" y2="76.50" stroke="#c8d274" stroke-width="1.4" stroke-dasharray="1.6 0.3"/>
<rect x="289.83" y="64.00" width="15.45" height="9.50" fill="#fbfdee" stroke="#c8d274" stroke-width="0.7"/>
<line x1="289.83" y1="70.70" x2="305.28" y2="70.70" stroke="#c8d274" stroke-width="1.2"/>
<line x1="318.15" y1="49.90" x2="318.15" y2="76.50" stroke="#648466" stroke-width="1.4" stroke-dasharray="1.6 0.3"/>
<rect x="310.43" y="62.40" width="15.45" height="9.50" fill="#f6faf4" stroke="#648466" stroke-width="0.7"/>
<line x1="310.43" y1="66.20" x2="325.88" y2="66.20" stroke="#648466" stroke-width="1.2"/>
<line x1="338.75" y1="47.70" x2="338.75" y2="74.80" stroke="#2f6a7a" stroke-width="1.4" stroke-dasharray="1.6 0.3"/>
<rect x="331.03" y="59.90" width="15.45" height="7.90" fill="#e8f4f7" stroke="#2f6a7a" stroke-width="0.7"/>
<line x1="331.03" y1="63.30" x2="346.47" y2="63.30" stroke="#2f6a7a" stroke-width="1.2"/>
<circle cx="338.75" cy="40.40" r="0.85" fill="#2f6a7a"/>
<line x1="359.35" y1="34.40" x2="359.35" y2="61.80" stroke="#1a2d64" stroke-width="1.4" stroke-dasharray="1.6 0.3"/>
<rect x="351.62" y="43.40" width="15.45" height="8.80" fill="#f4f6fb" stroke="#1a2d64" stroke-width="0.7"/>
<line x1="351.62" y1="47.50" x2="367.07" y2="47.50" stroke="#1a2d64" stroke-width="1.2"/>
<circle cx="359.35" cy="68.60" r="0.85" fill="#1a2d64"/>
<line x1="379.94" y1="26.20" x2="379.94" y2="40.90" stroke="#901422" stroke-width="1.4" stroke-dasharray="1.6 0.3"/>
<rect x="372.22" y="29.90" width="15.45" height="3.70" fill="#fdf5f5" stroke="#901422" stroke-width="0.7"/>
<line x1="372.22" y1="30.60" x2="387.67" y2="30.60" stroke="#901422" stroke-width="1.2"/>
<circle cx="379.94" cy="44.00" r="0.85" fill="#901422"/>
<path d="M297.56 28.00V26.60H318.15V28.00" fill="none" stroke="#333" stroke-width="0.7"/>
<text x="307.86" y="25.70" font-size="4.5" text-anchor="middle" fill="#111" font-weight="normal" stroke="#111" stroke-width="0.12">0.011</text>
<path d="M318.15 21.60V20.20H338.75V21.60" fill="none" stroke="#333" stroke-width="0.7"/>
<text x="328.45" y="19.30" font-size="4.5" text-anchor="middle" fill="#111" font-weight="normal" stroke="#111" stroke-width="0.12">0.012</text>
<path d="M338.75 16.20V14.80H359.35V16.20" fill="none" stroke="#333" stroke-width="0.7"/>
<text x="349.05" y="13.90" font-size="4.5" text-anchor="middle" fill="#111" font-weight="normal" stroke="#111" stroke-width="0.12">p &lt; 2.22e-16</text>
<path d="M359.35 10.00V8.60H379.94V10.00" fill="none" stroke="#333" stroke-width="0.7"/>
<text x="369.64" y="7.70" font-size="4.5" text-anchor="middle" fill="#111" font-weight="normal" stroke="#111" stroke-width="0.12">p &lt; 2.22e-16</text>
<rect x="285.20" y="3.40" width="107.10" height="75.70" fill="none" stroke="#555555" stroke-width="0.8"/>
<line x1="283.60" y1="78.00" x2="285.20" y2="78.00" stroke="#555555" stroke-width="0.6"/>
<text x="283.00" y="79.25" font-size="3.55" text-anchor="end" fill="#4d4d4d" font-weight="normal" stroke="#4d4d4d" stroke-width="0.1">0</text>
<line x1="283.60" y1="59.75" x2="285.20" y2="59.75" stroke="#555555" stroke-width="0.6"/>
<text x="283.00" y="61.00" font-size="3.55" text-anchor="end" fill="#4d4d4d" font-weight="normal" stroke="#4d4d4d" stroke-width="0.1">2000</text>
<line x1="283.60" y1="41.50" x2="285.20" y2="41.50" stroke="#555555" stroke-width="0.6"/>
<text x="283.00" y="42.75" font-size="3.55" text-anchor="end" fill="#4d4d4d" font-weight="normal" stroke="#4d4d4d" stroke-width="0.1">4000</text>
<line x1="283.60" y1="23.25" x2="285.20" y2="23.25" stroke="#555555" stroke-width="0.6"/>
<text x="283.00" y="24.50" font-size="3.55" text-anchor="end" fill="#4d4d4d" font-weight="normal" stroke="#4d4d4d" stroke-width="0.1">6000</text>
<line x1="283.60" y1="5.00" x2="285.20" y2="5.00" stroke="#555555" stroke-width="0.6"/>
<text x="283.00" y="6.25" font-size="3.55" text-anchor="end" fill="#4d4d4d" font-weight="normal" stroke="#4d4d4d" stroke-width="0.1">8000</text>
<rect x="392.60" y="3.40" width="6.70" height="75.70" fill="#fff" stroke="#555555" stroke-width="0.8"/>
<text x="396.10" y="41.25" font-size="3.8" text-anchor="middle" fill="#1a1a1a" font-weight="normal" stroke="#1a1a1a" stroke-width="0.1" transform="rotate(90 396.10 41.25)">Chao1</text>
<rect x="285.20" y="82.00" width="107.10" height="75.70" fill="#fff" stroke="none" stroke-width="0"/>
<line x1="285.20" y1="146.10" x2="392.30" y2="146.10" stroke="#ebebeb" stroke-width="0.45"/>
<line x1="285.20" y1="123.70" x2="392.30" y2="123.70" stroke="#ebebeb" stroke-width="0.45"/>
<line x1="285.20" y1="101.30" x2="392.30" y2="101.30" stroke="#ebebeb" stroke-width="0.45"/>
<line x1="285.20" y1="157.30" x2="392.30" y2="157.30" stroke="#ebebeb" stroke-width="0.7"/>
<line x1="285.20" y1="134.90" x2="392.30" y2="134.90" stroke="#ebebeb" stroke-width="0.7"/>
<line x1="285.20" y1="112.50" x2="392.30" y2="112.50" stroke="#ebebeb" stroke-width="0.7"/>
<line x1="285.20" y1="90.10" x2="392.30" y2="90.10" stroke="#ebebeb" stroke-width="0.7"/>
<line x1="297.56" y1="82.00" x2="297.56" y2="157.70" stroke="#ebebeb" stroke-width="0.7"/>
<line x1="318.15" y1="82.00" x2="318.15" y2="157.70" stroke="#ebebeb" stroke-width="0.7"/>
<line x1="338.75" y1="82.00" x2="338.75" y2="157.70" stroke="#ebebeb" stroke-width="0.7"/>
<line x1="359.35" y1="82.00" x2="359.35" y2="157.70" stroke="#ebebeb" stroke-width="0.7"/>
<line x1="379.94" y1="82.00" x2="379.94" y2="157.70" stroke="#ebebeb" stroke-width="0.7"/>
<line x1="297.56" y1="116.60" x2="297.56" y2="154.40" stroke="#c8d274" stroke-width="1.4" stroke-dasharray="1.6 0.3"/>
<rect x="289.83" y="133.40" width="15.45" height="10.20" fill="#fbfdee" stroke="#c8d274" stroke-width="0.7"/>
<line x1="289.83" y1="137.70" x2="305.28" y2="137.70" stroke="#c8d274" stroke-width="1.2"/>
<line x1="318.15" y1="118.70" x2="318.15" y2="153.30" stroke="#648466" stroke-width="1.4" stroke-dasharray="1.6 0.3"/>
<rect x="310.43" y="132.10" width="15.45" height="7.80" fill="#f6faf4" stroke="#648466" stroke-width="0.7"/>
<line x1="310.43" y1="136.00" x2="325.88" y2="136.00" stroke="#648466" stroke-width="1.2"/>
<line x1="338.75" y1="122.00" x2="338.75" y2="150.00" stroke="#2f6a7a" stroke-width="1.4" stroke-dasharray="1.6 0.3"/>
<rect x="331.03" y="128.00" width="15.45" height="9.50" fill="#e8f4f7" stroke="#2f6a7a" stroke-width="0.7"/>
<line x1="331.03" y1="133.80" x2="346.47" y2="133.80" stroke="#2f6a7a" stroke-width="1.2"/>
<line x1="359.35" y1="112.20" x2="359.35" y2="133.80" stroke="#1a2d64" stroke-width="1.4" stroke-dasharray="1.6 0.3"/>
<rect x="351.62" y="118.30" width="15.45" height="7.50" fill="#f4f6fb" stroke="#1a2d64" stroke-width="0.7"/>
<line x1="351.62" y1="121.50" x2="367.07" y2="121.50" stroke="#1a2d64" stroke-width="1.2"/>
<circle cx="359.35" cy="144.60" r="0.85" fill="#1a2d64"/>
<line x1="379.94" y1="104.20" x2="379.94" y2="127.40" stroke="#901422" stroke-width="1.4" stroke-dasharray="1.6 0.3"/>
<rect x="372.22" y="109.60" width="15.45" height="7.40" fill="#fdf5f5" stroke="#901422" stroke-width="0.7"/>
<line x1="372.22" y1="113.30" x2="387.67" y2="113.30" stroke="#901422" stroke-width="1.2"/>
<path d="M297.56 105.60V104.20H318.15V105.60" fill="none" stroke="#333" stroke-width="0.7"/>
<text x="307.86" y="103.30" font-size="4.5" text-anchor="middle" fill="#111" font-weight="normal" stroke="#111" stroke-width="0.12">0.21</text>
<path d="M318.15 99.60V98.20H338.75V99.60" fill="none" stroke="#333" stroke-width="0.7"/>
<text x="328.45" y="97.30" font-size="4.5" text-anchor="middle" fill="#111" font-weight="normal" stroke="#111" stroke-width="0.12">0.0064</text>
<path d="M338.75 94.00V92.60H359.35V94.00" fill="none" stroke="#333" stroke-width="0.7"/>
<text x="349.05" y="91.70" font-size="4.5" text-anchor="middle" fill="#111" font-weight="normal" stroke="#111" stroke-width="0.12">2.3e-16</text>
<path d="M359.35 87.40V86.00H379.94V87.40" fill="none" stroke="#333" stroke-width="0.7"/>
<text x="369.64" y="85.10" font-size="4.5" text-anchor="middle" fill="#111" font-weight="normal" stroke="#111" stroke-width="0.12">4.1e-12</text>
<rect x="285.20" y="82.00" width="107.10" height="75.70" fill="none" stroke="#555555" stroke-width="0.8"/>
<line x1="283.60" y1="157.30" x2="285.20" y2="157.30" stroke="#555555" stroke-width="0.6"/>
<text x="283.00" y="158.55" font-size="3.55" text-anchor="end" fill="#4d4d4d" font-weight="normal" stroke="#4d4d4d" stroke-width="0.1">0</text>
<line x1="283.60" y1="134.90" x2="285.20" y2="134.90" stroke="#555555" stroke-width="0.6"/>
<text x="283.00" y="136.15" font-size="3.55" text-anchor="end" fill="#4d4d4d" font-weight="normal" stroke="#4d4d4d" stroke-width="0.1">2</text>
<line x1="283.60" y1="112.50" x2="285.20" y2="112.50" stroke="#555555" stroke-width="0.6"/>
<text x="283.00" y="113.75" font-size="3.55" text-anchor="end" fill="#4d4d4d" font-weight="normal" stroke="#4d4d4d" stroke-width="0.1">4</text>
<line x1="283.60" y1="90.10" x2="285.20" y2="90.10" stroke="#555555" stroke-width="0.6"/>
<text x="283.00" y="91.35" font-size="3.55" text-anchor="end" fill="#4d4d4d" font-weight="normal" stroke="#4d4d4d" stroke-width="0.1">6</text>
<rect x="392.60" y="82.00" width="6.70" height="75.70" fill="#fff" stroke="#555555" stroke-width="0.8"/>
<text x="396.10" y="119.85" font-size="3.8" text-anchor="middle" fill="#1a1a1a" font-weight="normal" stroke="#1a1a1a" stroke-width="0.1" transform="rotate(90 396.10 119.85)">Shannon</text>
<line x1="297.56" y1="157.70" x2="297.56" y2="159.30" stroke="#555555" stroke-width="0.6"/>
<text x="297.56" y="163.30" font-size="3.55" text-anchor="middle" fill="#4d4d4d" font-weight="normal" stroke="#4d4d4d" stroke-width="0.1">3w</text>
<line x1="318.15" y1="157.70" x2="318.15" y2="159.30" stroke="#555555" stroke-width="0.6"/>
<text x="318.15" y="163.30" font-size="3.55" text-anchor="middle" fill="#4d4d4d" font-weight="normal" stroke="#4d4d4d" stroke-width="0.1">3m</text>
<line x1="338.75" y1="157.70" x2="338.75" y2="159.30" stroke="#555555" stroke-width="0.6"/>
<text x="338.75" y="163.30" font-size="3.55" text-anchor="middle" fill="#4d4d4d" font-weight="normal" stroke="#4d4d4d" stroke-width="0.1">6m</text>
<line x1="359.35" y1="157.70" x2="359.35" y2="159.30" stroke="#555555" stroke-width="0.6"/>
<text x="359.35" y="163.30" font-size="3.55" text-anchor="middle" fill="#4d4d4d" font-weight="normal" stroke="#4d4d4d" stroke-width="0.1">1y</text>
<line x1="379.94" y1="157.70" x2="379.94" y2="159.30" stroke="#555555" stroke-width="0.6"/>
<text x="379.94" y="163.30" font-size="3.55" text-anchor="middle" fill="#4d4d4d" font-weight="normal" stroke="#4d4d4d" stroke-width="0.1">M</text>
<rect x="287.00" y="175.80" width="105.50" height="76.70" fill="#fff" stroke="none" stroke-width="0"/>
<line x1="287.00" y1="238.35" x2="392.50" y2="238.35" stroke="#ebebeb" stroke-width="0.45"/>
<line x1="287.00" y1="220.85" x2="392.50" y2="220.85" stroke="#ebebeb" stroke-width="0.45"/>
<line x1="287.00" y1="203.35" x2="392.50" y2="203.35" stroke="#ebebeb" stroke-width="0.45"/>
<line x1="287.00" y1="185.85" x2="392.50" y2="185.85" stroke="#ebebeb" stroke-width="0.45"/>
<line x1="287.00" y1="247.10" x2="392.50" y2="247.10" stroke="#ebebeb" stroke-width="0.7"/>
<line x1="287.00" y1="229.60" x2="392.50" y2="229.60" stroke="#ebebeb" stroke-width="0.7"/>
<line x1="287.00" y1="212.10" x2="392.50" y2="212.10" stroke="#ebebeb" stroke-width="0.7"/>
<line x1="287.00" y1="194.60" x2="392.50" y2="194.60" stroke="#ebebeb" stroke-width="0.7"/>
<line x1="287.00" y1="177.10" x2="392.50" y2="177.10" stroke="#ebebeb" stroke-width="0.7"/>
<line x1="299.17" y1="175.80" x2="299.17" y2="252.50" stroke="#ebebeb" stroke-width="0.7"/>
<line x1="319.46" y1="175.80" x2="319.46" y2="252.50" stroke="#ebebeb" stroke-width="0.7"/>
<line x1="339.75" y1="175.80" x2="339.75" y2="252.50" stroke="#ebebeb" stroke-width="0.7"/>
<line x1="360.04" y1="175.80" x2="360.04" y2="252.50" stroke="#ebebeb" stroke-width="0.7"/>
<line x1="380.33" y1="175.80" x2="380.33" y2="252.50" stroke="#ebebeb" stroke-width="0.7"/>
<line x1="299.17" y1="200.80" x2="299.17" y2="212.30" stroke="#c8d274" stroke-width="0.6"/>
<line x1="299.17" y1="228.30" x2="299.17" y2="249.40" stroke="#c8d274" stroke-width="0.6"/>
<rect x="291.56" y="212.30" width="15.22" height="16.00" fill="#fbfdee" stroke="#c8d274" stroke-width="0.7"/>
<line x1="291.56" y1="219.80" x2="306.78" y2="219.80" stroke="#c8d274" stroke-width="1.2"/>
<line x1="319.46" y1="204.00" x2="319.46" y2="212.30" stroke="#648466" stroke-width="0.6"/>
<line x1="319.46" y1="226.80" x2="319.46" y2="240.80" stroke="#648466" stroke-width="0.6"/>
<rect x="311.85" y="212.30" width="15.22" height="14.50" fill="#f6faf4" stroke="#648466" stroke-width="0.7"/>
<line x1="311.85" y1="219.20" x2="327.07" y2="219.20" stroke="#648466" stroke-width="1.2"/>
<line x1="339.75" y1="201.80" x2="339.75" y2="207.60" stroke="#2f6a7a" stroke-width="0.6"/>
<line x1="339.75" y1="216.50" x2="339.75" y2="224.00" stroke="#2f6a7a" stroke-width="0.6"/>
<rect x="332.14" y="207.60" width="15.22" height="8.90" fill="#e8f4f7" stroke="#2f6a7a" stroke-width="0.7"/>
<line x1="332.14" y1="211.00" x2="347.36" y2="211.00" stroke="#2f6a7a" stroke-width="1.2"/>
<circle cx="339.75" cy="229.00" r="0.85" fill="#2f6a7a"/>
<circle cx="339.75" cy="230.70" r="0.85" fill="#2f6a7a"/>
<circle cx="339.75" cy="232.40" r="0.85" fill="#2f6a7a"/>
<circle cx="339.75" cy="234.10" r="0.85" fill="#2f6a7a"/>
<circle cx="339.75" cy="235.80" r="0.85" fill="#2f6a7a"/>
<line x1="360.04" y1="199.80" x2="360.04" y2="204.70" stroke="#1a2d64" stroke-width="0.6"/>
<line x1="360.04" y1="221.40" x2="360.04" y2="228.90" stroke="#1a2d64" stroke-width="0.6"/>
<rect x="352.43" y="204.70" width="15.22" height="16.70" fill="#f4f6fb" stroke="#1a2d64" stroke-width="0.7"/>
<line x1="352.43" y1="212.70" x2="367.65" y2="212.70" stroke="#1a2d64" stroke-width="1.2"/>
<line x1="380.33" y1="217.30" x2="380.33" y2="222.10" stroke="#901422" stroke-width="0.6"/>
<line x1="380.33" y1="227.40" x2="380.33" y2="230.70" stroke="#901422" stroke-width="0.6"/>
<rect x="372.72" y="222.10" width="15.22" height="5.30" fill="#fdf5f5" stroke="#901422" stroke-width="0.7"/>
<line x1="372.72" y1="224.80" x2="387.94" y2="224.80" stroke="#901422" stroke-width="1.2"/>
<circle cx="380.33" cy="206.70" r="0.85" fill="#901422"/>
<circle cx="380.33" cy="235.60" r="0.85" fill="#901422"/>
<path d="M299.17 198.60V197.20H319.46V198.60" fill="none" stroke="#333" stroke-width="0.7"/>
<text x="309.32" y="196.30" font-size="4.5" text-anchor="middle" fill="#111" font-weight="normal" stroke="#111" stroke-width="0.12">0.85</text>
<path d="M319.46 192.90V191.50H339.75V192.90" fill="none" stroke="#333" stroke-width="0.7"/>
<text x="329.61" y="190.60" font-size="4.5" text-anchor="middle" fill="#111" font-weight="normal" stroke="#111" stroke-width="0.12">2.4e-06</text>
<path d="M339.75 187.00V185.60H360.04V187.00" fill="none" stroke="#333" stroke-width="0.7"/>
<text x="349.89" y="184.70" font-size="4.5" text-anchor="middle" fill="#111" font-weight="normal" stroke="#111" stroke-width="0.12">0.5</text>
<path d="M360.04 181.40V180.00H380.33V181.40" fill="none" stroke="#333" stroke-width="0.7"/>
<text x="370.18" y="179.10" font-size="4.5" text-anchor="middle" fill="#111" font-weight="normal" stroke="#111" stroke-width="0.12">6e-09</text>
<rect x="287.00" y="175.80" width="105.50" height="76.70" fill="none" stroke="#555555" stroke-width="0.8"/>
<line x1="285.40" y1="247.10" x2="287.00" y2="247.10" stroke="#555555" stroke-width="0.6"/>
<text x="284.80" y="248.35" font-size="3.55" text-anchor="end" fill="#4d4d4d" font-weight="normal" stroke="#4d4d4d" stroke-width="0.1">1000</text>
<line x1="285.40" y1="229.60" x2="287.00" y2="229.60" stroke="#555555" stroke-width="0.6"/>
<text x="284.80" y="230.85" font-size="3.55" text-anchor="end" fill="#4d4d4d" font-weight="normal" stroke="#4d4d4d" stroke-width="0.1">2000</text>
<line x1="285.40" y1="212.10" x2="287.00" y2="212.10" stroke="#555555" stroke-width="0.6"/>
<text x="284.80" y="213.35" font-size="3.55" text-anchor="end" fill="#4d4d4d" font-weight="normal" stroke="#4d4d4d" stroke-width="0.1">3000</text>
<line x1="285.40" y1="194.60" x2="287.00" y2="194.60" stroke="#555555" stroke-width="0.6"/>
<text x="284.80" y="195.85" font-size="3.55" text-anchor="end" fill="#4d4d4d" font-weight="normal" stroke="#4d4d4d" stroke-width="0.1">4000</text>
<line x1="285.40" y1="177.10" x2="287.00" y2="177.10" stroke="#555555" stroke-width="0.6"/>
<text x="284.80" y="178.35" font-size="3.55" text-anchor="end" fill="#4d4d4d" font-weight="normal" stroke="#4d4d4d" stroke-width="0.1">5000</text>
<rect x="392.80" y="175.80" width="6.50" height="76.70" fill="#fff" stroke="#555555" stroke-width="0.8"/>
<text x="396.10" y="214.15" font-size="3.8" text-anchor="middle" fill="#1a1a1a" font-weight="normal" stroke="#1a1a1a" stroke-width="0.1" transform="rotate(90 396.10 214.15)">chao1</text>
<rect x="287.00" y="255.60" width="105.50" height="76.40" fill="#fff" stroke="none" stroke-width="0"/>
<line x1="287.00" y1="321.90" x2="392.50" y2="321.90" stroke="#ebebeb" stroke-width="0.45"/>
<line x1="287.00" y1="302.90" x2="392.50" y2="302.90" stroke="#ebebeb" stroke-width="0.45"/>
<line x1="287.00" y1="283.90" x2="392.50" y2="283.90" stroke="#ebebeb" stroke-width="0.45"/>
<line x1="287.00" y1="264.90" x2="392.50" y2="264.90" stroke="#ebebeb" stroke-width="0.45"/>
<line x1="287.00" y1="312.40" x2="392.50" y2="312.40" stroke="#ebebeb" stroke-width="0.7"/>
<line x1="287.00" y1="293.40" x2="392.50" y2="293.40" stroke="#ebebeb" stroke-width="0.7"/>
<line x1="287.00" y1="274.40" x2="392.50" y2="274.40" stroke="#ebebeb" stroke-width="0.7"/>
<line x1="299.17" y1="255.60" x2="299.17" y2="332.00" stroke="#ebebeb" stroke-width="0.7"/>
<line x1="319.46" y1="255.60" x2="319.46" y2="332.00" stroke="#ebebeb" stroke-width="0.7"/>
<line x1="339.75" y1="255.60" x2="339.75" y2="332.00" stroke="#ebebeb" stroke-width="0.7"/>
<line x1="360.04" y1="255.60" x2="360.04" y2="332.00" stroke="#ebebeb" stroke-width="0.7"/>
<line x1="380.33" y1="255.60" x2="380.33" y2="332.00" stroke="#ebebeb" stroke-width="0.7"/>
<line x1="299.17" y1="282.60" x2="299.17" y2="287.30" stroke="#c8d274" stroke-width="0.6"/>
<line x1="299.17" y1="299.80" x2="299.17" y2="328.40" stroke="#c8d274" stroke-width="0.6"/>
<rect x="291.56" y="287.30" width="15.22" height="12.50" fill="#fbfdee" stroke="#c8d274" stroke-width="0.7"/>
<line x1="291.56" y1="289.90" x2="306.78" y2="289.90" stroke="#c8d274" stroke-width="1.2"/>
<circle cx="299.17" cy="328.40" r="0.85" fill="#c8d274"/>
<line x1="319.46" y1="281.50" x2="319.46" y2="287.30" stroke="#648466" stroke-width="0.6"/>
<line x1="319.46" y1="298.10" x2="319.46" y2="313.20" stroke="#648466" stroke-width="0.6"/>
<rect x="311.85" y="287.30" width="15.22" height="10.80" fill="#f6faf4" stroke="#648466" stroke-width="0.7"/>
<line x1="311.85" y1="292.70" x2="327.07" y2="292.70" stroke="#648466" stroke-width="1.2"/>
<circle cx="319.46" cy="313.20" r="0.85" fill="#648466"/>
<circle cx="319.46" cy="321.50" r="0.85" fill="#648466"/>
<line x1="339.75" y1="278.70" x2="339.75" y2="285.50" stroke="#2f6a7a" stroke-width="0.6"/>
<line x1="339.75" y1="296.00" x2="339.75" y2="305.70" stroke="#2f6a7a" stroke-width="0.6"/>
<rect x="332.14" y="285.50" width="15.22" height="10.50" fill="#e8f4f7" stroke="#2f6a7a" stroke-width="0.7"/>
<line x1="332.14" y1="290.60" x2="347.36" y2="290.60" stroke="#2f6a7a" stroke-width="1.2"/>
<line x1="360.04" y1="287.20" x2="360.04" y2="291.20" stroke="#1a2d64" stroke-width="0.6"/>
<line x1="360.04" y1="296.00" x2="360.04" y2="300.30" stroke="#1a2d64" stroke-width="0.6"/>
<rect x="352.43" y="291.20" width="15.22" height="4.80" fill="#8299c2" stroke="#1a2d64" stroke-width="0.7"/>
<line x1="352.43" y1="293.60" x2="367.65" y2="293.60" stroke="#1a2d64" stroke-width="1.2"/>
<circle cx="360.04" cy="301.50" r="0.85" fill="#1a2d64"/>
<line x1="380.33" y1="290.60" x2="380.33" y2="293.00" stroke="#901422" stroke-width="0.6"/>
<line x1="380.33" y1="295.60" x2="380.33" y2="299.50" stroke="#901422" stroke-width="0.6"/>
<rect x="372.72" y="293.00" width="15.22" height="2.60" fill="#b02a34" stroke="#901422" stroke-width="0.7"/>
<line x1="372.72" y1="294.30" x2="387.94" y2="294.30" stroke="#901422" stroke-width="1.2"/>
<circle cx="380.33" cy="288.00" r="0.85" fill="#901422"/>
<circle cx="380.33" cy="300.80" r="0.85" fill="#901422"/>
<path d="M299.17 278.40V277.00H319.46V278.40" fill="none" stroke="#333" stroke-width="0.7"/>
<text x="309.32" y="276.10" font-size="4.5" text-anchor="middle" fill="#111" font-weight="normal" stroke="#111" stroke-width="0.12">0.5</text>
<path d="M319.46 272.50V271.10H339.75V272.50" fill="none" stroke="#333" stroke-width="0.7"/>
<text x="329.61" y="270.20" font-size="4.5" text-anchor="middle" fill="#111" font-weight="normal" stroke="#111" stroke-width="0.12">0.15</text>
<path d="M339.75 266.00V264.60H360.04V266.00" fill="none" stroke="#333" stroke-width="0.7"/>
<text x="349.89" y="263.70" font-size="4.5" text-anchor="middle" fill="#111" font-weight="normal" stroke="#111" stroke-width="0.12">0.011</text>
<path d="M360.04 260.60V259.20H380.33V260.60" fill="none" stroke="#333" stroke-width="0.7"/>
<text x="370.18" y="258.30" font-size="4.5" text-anchor="middle" fill="#111" font-weight="normal" stroke="#111" stroke-width="0.12">0.006</text>
<rect x="287.00" y="255.60" width="105.50" height="76.40" fill="none" stroke="#555555" stroke-width="0.8"/>
<line x1="285.40" y1="312.40" x2="287.00" y2="312.40" stroke="#555555" stroke-width="0.6"/>
<text x="284.80" y="313.65" font-size="3.55" text-anchor="end" fill="#4d4d4d" font-weight="normal" stroke="#4d4d4d" stroke-width="0.1">6</text>
<line x1="285.40" y1="293.40" x2="287.00" y2="293.40" stroke="#555555" stroke-width="0.6"/>
<text x="284.80" y="294.65" font-size="3.55" text-anchor="end" fill="#4d4d4d" font-weight="normal" stroke="#4d4d4d" stroke-width="0.1">7</text>
<line x1="285.40" y1="274.40" x2="287.00" y2="274.40" stroke="#555555" stroke-width="0.6"/>
<text x="284.80" y="275.65" font-size="3.55" text-anchor="end" fill="#4d4d4d" font-weight="normal" stroke="#4d4d4d" stroke-width="0.1">8</text>
<rect x="392.80" y="255.60" width="6.50" height="76.40" fill="#fff" stroke="#555555" stroke-width="0.8"/>
<text x="396.10" y="293.80" font-size="3.8" text-anchor="middle" fill="#1a1a1a" font-weight="normal" stroke="#1a1a1a" stroke-width="0.1" transform="rotate(90 396.10 293.80)">shannon</text>
<line x1="299.17" y1="332.00" x2="299.17" y2="333.60" stroke="#555555" stroke-width="0.6"/>
<text x="299.17" y="337.60" font-size="3.55" text-anchor="middle" fill="#4d4d4d" font-weight="normal" stroke="#4d4d4d" stroke-width="0.1">3w</text>
<line x1="319.46" y1="332.00" x2="319.46" y2="333.60" stroke="#555555" stroke-width="0.6"/>
<text x="319.46" y="337.60" font-size="3.55" text-anchor="middle" fill="#4d4d4d" font-weight="normal" stroke="#4d4d4d" stroke-width="0.1">3m</text>
<line x1="339.75" y1="332.00" x2="339.75" y2="333.60" stroke="#555555" stroke-width="0.6"/>
<text x="339.75" y="337.60" font-size="3.55" text-anchor="middle" fill="#4d4d4d" font-weight="normal" stroke="#4d4d4d" stroke-width="0.1">6m</text>
<line x1="360.04" y1="332.00" x2="360.04" y2="333.60" stroke="#555555" stroke-width="0.6"/>
<text x="360.04" y="337.60" font-size="3.55" text-anchor="middle" fill="#4d4d4d" font-weight="normal" stroke="#4d4d4d" stroke-width="0.1">1y</text>
<line x1="380.33" y1="332.00" x2="380.33" y2="333.60" stroke="#555555" stroke-width="0.6"/>
<text x="380.33" y="337.60" font-size="3.55" text-anchor="middle" fill="#4d4d4d" font-weight="normal" stroke="#4d4d4d" stroke-width="0.1">M</text>
<rect x="100.00" y="351.80" width="8.60" height="8.40" fill="#c5dd74" stroke="#b9cf6a" stroke-width="0.5"/>
<text x="0" y="0" font-size="6.9" text-anchor="start" fill="#1a1a1a" font-weight="normal" transform="translate(112.20 358.40) scale(0.9 1)">3 weeks</text>
<rect x="147.10" y="351.80" width="8.60" height="8.40" fill="#8cb47d" stroke="#6f8f66" stroke-width="0.5"/>
<text x="0" y="0" font-size="6.9" text-anchor="start" fill="#1a1a1a" font-weight="normal" transform="translate(159.60 358.40) scale(0.9 1)">3 months</text>
<rect x="197.10" y="351.80" width="8.60" height="8.40" fill="#468796" stroke="#2f5f6c" stroke-width="0.5"/>
<text x="0" y="0" font-size="6.9" text-anchor="start" fill="#1a1a1a" font-weight="normal" transform="translate(209.60 358.40) scale(0.9 1)">6 months</text>
<rect x="246.30" y="351.80" width="8.60" height="8.40" fill="#23468c" stroke="#14284f" stroke-width="0.5"/>
<text x="0" y="0" font-size="6.9" text-anchor="start" fill="#1a1a1a" font-weight="normal" transform="translate(259.60 358.40) scale(0.9 1)">1 year</text>
<rect x="288.10" y="351.80" width="8.60" height="8.40" fill="#af191e" stroke="#7a1014" stroke-width="0.5"/>
<text x="0" y="0" font-size="6.9" text-anchor="start" fill="#1a1a1a" font-weight="normal" transform="translate(300.60 358.40) scale(0.9 1)">Mother</text>
</svg></body></html>
